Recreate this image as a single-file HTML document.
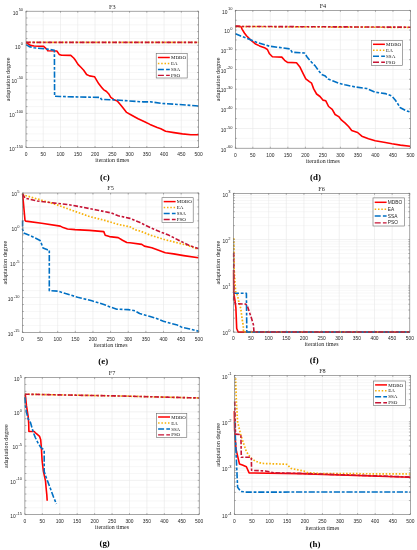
<!DOCTYPE html>
<html><head><meta charset="utf-8"><style>
html,body{margin:0;padding:0;background:#fff;}
body{width:417px;height:550px;overflow:hidden;}
svg{display:block;filter:blur(0.3px);}
.tk{font-family:"Liberation Sans",sans-serif;font-size:4.9px;fill:#262626;}
.sup{font-size:4.0px;}
.ti{font-family:"Liberation Serif",serif;font-size:6.2px;fill:#222;}
.xl{font-family:"Liberation Serif",serif;font-size:5.9px;fill:#222;}
.yl{font-family:"Liberation Serif",serif;font-size:6.2px;fill:#222;}
.cap{font-family:"Liberation Serif",serif;font-size:8.9px;font-weight:bold;fill:#000;}
.lg{font-family:"Liberation Serif",serif;font-size:5.0px;fill:#111;}
.lg7{font-family:"Liberation Serif",serif;font-size:4.85px;fill:#111;}
.lgs{font-family:"Liberation Sans",sans-serif;font-size:4.8px;fill:#222;}
</style></head><body>
<svg width="417" height="550" viewBox="0 0 417 550">
<rect width="417" height="550" fill="#fff"/>
<line x1="26" y1="140.69" x2="198.6" y2="140.69" stroke="#efefef" stroke-width="0.5"/>
<line x1="26" y1="133.87" x2="198.6" y2="133.87" stroke="#efefef" stroke-width="0.5"/>
<line x1="26" y1="127.06" x2="198.6" y2="127.06" stroke="#efefef" stroke-width="0.5"/>
<line x1="26" y1="120.24" x2="198.6" y2="120.24" stroke="#efefef" stroke-width="0.5"/>
<line x1="26" y1="106.61" x2="198.6" y2="106.61" stroke="#efefef" stroke-width="0.5"/>
<line x1="26" y1="99.8" x2="198.6" y2="99.8" stroke="#efefef" stroke-width="0.5"/>
<line x1="26" y1="92.98" x2="198.6" y2="92.98" stroke="#efefef" stroke-width="0.5"/>
<line x1="26" y1="86.16" x2="198.6" y2="86.16" stroke="#efefef" stroke-width="0.5"/>
<line x1="26" y1="72.53" x2="198.6" y2="72.53" stroke="#efefef" stroke-width="0.5"/>
<line x1="26" y1="65.72" x2="198.6" y2="65.72" stroke="#efefef" stroke-width="0.5"/>
<line x1="26" y1="58.9" x2="198.6" y2="58.9" stroke="#efefef" stroke-width="0.5"/>
<line x1="26" y1="52.09" x2="198.6" y2="52.09" stroke="#efefef" stroke-width="0.5"/>
<line x1="26" y1="38.46" x2="198.6" y2="38.46" stroke="#efefef" stroke-width="0.5"/>
<line x1="26" y1="31.64" x2="198.6" y2="31.64" stroke="#efefef" stroke-width="0.5"/>
<line x1="26" y1="24.83" x2="198.6" y2="24.83" stroke="#efefef" stroke-width="0.5"/>
<line x1="26" y1="18.01" x2="198.6" y2="18.01" stroke="#efefef" stroke-width="0.5"/>
<line x1="43.26" y1="11.2" x2="43.26" y2="147.5" stroke="#e8e8e8" stroke-width="0.6"/>
<line x1="60.52" y1="11.2" x2="60.52" y2="147.5" stroke="#e8e8e8" stroke-width="0.6"/>
<line x1="77.78" y1="11.2" x2="77.78" y2="147.5" stroke="#e8e8e8" stroke-width="0.6"/>
<line x1="95.04" y1="11.2" x2="95.04" y2="147.5" stroke="#e8e8e8" stroke-width="0.6"/>
<line x1="112.3" y1="11.2" x2="112.3" y2="147.5" stroke="#e8e8e8" stroke-width="0.6"/>
<line x1="129.56" y1="11.2" x2="129.56" y2="147.5" stroke="#e8e8e8" stroke-width="0.6"/>
<line x1="146.82" y1="11.2" x2="146.82" y2="147.5" stroke="#e8e8e8" stroke-width="0.6"/>
<line x1="164.08" y1="11.2" x2="164.08" y2="147.5" stroke="#e8e8e8" stroke-width="0.6"/>
<line x1="181.34" y1="11.2" x2="181.34" y2="147.5" stroke="#e8e8e8" stroke-width="0.6"/>
<line x1="26" y1="45.27" x2="198.6" y2="45.27" stroke="#e8e8e8" stroke-width="0.6"/>
<line x1="26" y1="79.35" x2="198.6" y2="79.35" stroke="#e8e8e8" stroke-width="0.6"/>
<line x1="26" y1="113.42" x2="198.6" y2="113.42" stroke="#e8e8e8" stroke-width="0.6"/>
<polyline fill="none" stroke="#ff0000" stroke-width="1.6" stroke-linejoin="round" points="26.2,42.6 30.4,45.4 34,46 43.6,46.4 47.2,49.6 47.8,50.8 56.8,51 59.2,54.4 61.6,55.3 70.8,55.4 73.7,58 75.8,60.8 78,64.4 80.9,67.3 83.7,70.2 86.6,74.5 89.5,75.9 94.5,76.7 96.7,80.3 98.8,83.8 101.7,87.4 103.5,89.6 106.5,91.5 108.6,93.7 110.8,97.3 113.7,99.4 117.3,100.9 120.9,105.2 123.7,108.8 126.6,112.4 131.7,115.3 138.1,118.8 144.6,121.7 150,124.4 157.2,127.6 160.8,128.8 165.6,131.2 174,132.6 182.4,133.9 190.8,134.8 198.6,134.8"/>
<polyline fill="none" stroke="#f7b10a" stroke-width="1.7" stroke-dasharray="1.6 1.7" stroke-linejoin="round" points="26,42.4 198.6,42.4"/>
<polyline fill="none" stroke="#0070c4" stroke-width="1.6" stroke-dasharray="6.2 1.8 2.8 1.8" stroke-linejoin="round" points="26.2,44.6 29.2,46.6 34,47.8 46,49 54.4,50.2 54.6,96.3 60,96.5 80,97 100.3,97.4 101.4,99.4 114.4,99.9 128.8,100.9 143.2,101.9 150,101.8 162,103.4 174,104.2 186,105 198.6,106"/>
<polyline fill="none" stroke="#c61334" stroke-width="1.6" stroke-dasharray="4.6 1.8 2.6 1.8" stroke-linejoin="round" points="26,42.4 198.6,42.4"/>
<rect x="26" y="11.2" width="172.6" height="136.3" fill="none" stroke="#6a6a6a" stroke-width="0.6"/>
<line x1="26" y1="147.5" x2="26" y2="146" stroke="#6a6a6a" stroke-width="0.5"/>
<line x1="26" y1="11.2" x2="26" y2="12.7" stroke="#6a6a6a" stroke-width="0.5"/>
<text x="26" y="155.8" class="tk" text-anchor="middle">0</text>
<line x1="43.26" y1="147.5" x2="43.26" y2="146" stroke="#6a6a6a" stroke-width="0.5"/>
<line x1="43.26" y1="11.2" x2="43.26" y2="12.7" stroke="#6a6a6a" stroke-width="0.5"/>
<text x="43.26" y="155.8" class="tk" text-anchor="middle">50</text>
<line x1="60.52" y1="147.5" x2="60.52" y2="146" stroke="#6a6a6a" stroke-width="0.5"/>
<line x1="60.52" y1="11.2" x2="60.52" y2="12.7" stroke="#6a6a6a" stroke-width="0.5"/>
<text x="60.52" y="155.8" class="tk" text-anchor="middle">100</text>
<line x1="77.78" y1="147.5" x2="77.78" y2="146" stroke="#6a6a6a" stroke-width="0.5"/>
<line x1="77.78" y1="11.2" x2="77.78" y2="12.7" stroke="#6a6a6a" stroke-width="0.5"/>
<text x="77.78" y="155.8" class="tk" text-anchor="middle">150</text>
<line x1="95.04" y1="147.5" x2="95.04" y2="146" stroke="#6a6a6a" stroke-width="0.5"/>
<line x1="95.04" y1="11.2" x2="95.04" y2="12.7" stroke="#6a6a6a" stroke-width="0.5"/>
<text x="95.04" y="155.8" class="tk" text-anchor="middle">200</text>
<line x1="112.3" y1="147.5" x2="112.3" y2="146" stroke="#6a6a6a" stroke-width="0.5"/>
<line x1="112.3" y1="11.2" x2="112.3" y2="12.7" stroke="#6a6a6a" stroke-width="0.5"/>
<text x="112.3" y="155.8" class="tk" text-anchor="middle">250</text>
<line x1="129.56" y1="147.5" x2="129.56" y2="146" stroke="#6a6a6a" stroke-width="0.5"/>
<line x1="129.56" y1="11.2" x2="129.56" y2="12.7" stroke="#6a6a6a" stroke-width="0.5"/>
<text x="129.56" y="155.8" class="tk" text-anchor="middle">300</text>
<line x1="146.82" y1="147.5" x2="146.82" y2="146" stroke="#6a6a6a" stroke-width="0.5"/>
<line x1="146.82" y1="11.2" x2="146.82" y2="12.7" stroke="#6a6a6a" stroke-width="0.5"/>
<text x="146.82" y="155.8" class="tk" text-anchor="middle">350</text>
<line x1="164.08" y1="147.5" x2="164.08" y2="146" stroke="#6a6a6a" stroke-width="0.5"/>
<line x1="164.08" y1="11.2" x2="164.08" y2="12.7" stroke="#6a6a6a" stroke-width="0.5"/>
<text x="164.08" y="155.8" class="tk" text-anchor="middle">400</text>
<line x1="181.34" y1="147.5" x2="181.34" y2="146" stroke="#6a6a6a" stroke-width="0.5"/>
<line x1="181.34" y1="11.2" x2="181.34" y2="12.7" stroke="#6a6a6a" stroke-width="0.5"/>
<text x="181.34" y="155.8" class="tk" text-anchor="middle">450</text>
<line x1="198.6" y1="147.5" x2="198.6" y2="146" stroke="#6a6a6a" stroke-width="0.5"/>
<line x1="198.6" y1="11.2" x2="198.6" y2="12.7" stroke="#6a6a6a" stroke-width="0.5"/>
<text x="198.6" y="155.8" class="tk" text-anchor="middle">500</text>
<line x1="26" y1="11.2" x2="27.5" y2="11.2" stroke="#6a6a6a" stroke-width="0.5"/>
<line x1="198.6" y1="11.2" x2="197.1" y2="11.2" stroke="#6a6a6a" stroke-width="0.5"/>
<line x1="26" y1="45.27" x2="27.5" y2="45.27" stroke="#6a6a6a" stroke-width="0.5"/>
<line x1="198.6" y1="45.27" x2="197.1" y2="45.27" stroke="#6a6a6a" stroke-width="0.5"/>
<line x1="26" y1="79.35" x2="27.5" y2="79.35" stroke="#6a6a6a" stroke-width="0.5"/>
<line x1="198.6" y1="79.35" x2="197.1" y2="79.35" stroke="#6a6a6a" stroke-width="0.5"/>
<line x1="26" y1="113.42" x2="27.5" y2="113.42" stroke="#6a6a6a" stroke-width="0.5"/>
<line x1="198.6" y1="113.42" x2="197.1" y2="113.42" stroke="#6a6a6a" stroke-width="0.5"/>
<line x1="26" y1="147.5" x2="27.5" y2="147.5" stroke="#6a6a6a" stroke-width="0.5"/>
<line x1="198.6" y1="147.5" x2="197.1" y2="147.5" stroke="#6a6a6a" stroke-width="0.5"/>
<line x1="26" y1="140.69" x2="27.5" y2="140.69" stroke="#6a6a6a" stroke-width="0.5"/>
<line x1="198.6" y1="140.69" x2="197.1" y2="140.69" stroke="#6a6a6a" stroke-width="0.5"/>
<line x1="26" y1="133.87" x2="27.5" y2="133.87" stroke="#6a6a6a" stroke-width="0.5"/>
<line x1="198.6" y1="133.87" x2="197.1" y2="133.87" stroke="#6a6a6a" stroke-width="0.5"/>
<line x1="26" y1="127.06" x2="27.5" y2="127.06" stroke="#6a6a6a" stroke-width="0.5"/>
<line x1="198.6" y1="127.06" x2="197.1" y2="127.06" stroke="#6a6a6a" stroke-width="0.5"/>
<line x1="26" y1="120.24" x2="27.5" y2="120.24" stroke="#6a6a6a" stroke-width="0.5"/>
<line x1="198.6" y1="120.24" x2="197.1" y2="120.24" stroke="#6a6a6a" stroke-width="0.5"/>
<line x1="26" y1="106.61" x2="27.5" y2="106.61" stroke="#6a6a6a" stroke-width="0.5"/>
<line x1="198.6" y1="106.61" x2="197.1" y2="106.61" stroke="#6a6a6a" stroke-width="0.5"/>
<line x1="26" y1="99.8" x2="27.5" y2="99.8" stroke="#6a6a6a" stroke-width="0.5"/>
<line x1="198.6" y1="99.8" x2="197.1" y2="99.8" stroke="#6a6a6a" stroke-width="0.5"/>
<line x1="26" y1="92.98" x2="27.5" y2="92.98" stroke="#6a6a6a" stroke-width="0.5"/>
<line x1="198.6" y1="92.98" x2="197.1" y2="92.98" stroke="#6a6a6a" stroke-width="0.5"/>
<line x1="26" y1="86.16" x2="27.5" y2="86.16" stroke="#6a6a6a" stroke-width="0.5"/>
<line x1="198.6" y1="86.16" x2="197.1" y2="86.16" stroke="#6a6a6a" stroke-width="0.5"/>
<line x1="26" y1="72.53" x2="27.5" y2="72.53" stroke="#6a6a6a" stroke-width="0.5"/>
<line x1="198.6" y1="72.53" x2="197.1" y2="72.53" stroke="#6a6a6a" stroke-width="0.5"/>
<line x1="26" y1="65.72" x2="27.5" y2="65.72" stroke="#6a6a6a" stroke-width="0.5"/>
<line x1="198.6" y1="65.72" x2="197.1" y2="65.72" stroke="#6a6a6a" stroke-width="0.5"/>
<line x1="26" y1="58.9" x2="27.5" y2="58.9" stroke="#6a6a6a" stroke-width="0.5"/>
<line x1="198.6" y1="58.9" x2="197.1" y2="58.9" stroke="#6a6a6a" stroke-width="0.5"/>
<line x1="26" y1="52.09" x2="27.5" y2="52.09" stroke="#6a6a6a" stroke-width="0.5"/>
<line x1="198.6" y1="52.09" x2="197.1" y2="52.09" stroke="#6a6a6a" stroke-width="0.5"/>
<line x1="26" y1="38.46" x2="27.5" y2="38.46" stroke="#6a6a6a" stroke-width="0.5"/>
<line x1="198.6" y1="38.46" x2="197.1" y2="38.46" stroke="#6a6a6a" stroke-width="0.5"/>
<line x1="26" y1="31.64" x2="27.5" y2="31.64" stroke="#6a6a6a" stroke-width="0.5"/>
<line x1="198.6" y1="31.64" x2="197.1" y2="31.64" stroke="#6a6a6a" stroke-width="0.5"/>
<line x1="26" y1="24.83" x2="27.5" y2="24.83" stroke="#6a6a6a" stroke-width="0.5"/>
<line x1="198.6" y1="24.83" x2="197.1" y2="24.83" stroke="#6a6a6a" stroke-width="0.5"/>
<line x1="26" y1="18.01" x2="27.5" y2="18.01" stroke="#6a6a6a" stroke-width="0.5"/>
<line x1="198.6" y1="18.01" x2="197.1" y2="18.01" stroke="#6a6a6a" stroke-width="0.5"/>
<text x="23.1" y="14.5" class="tk" text-anchor="end">10<tspan class="sup" dx="0.4" dy="-3.3">50</tspan></text>
<text x="23.1" y="48.57" class="tk" text-anchor="end">10<tspan class="sup" dx="0.4" dy="-3.3">0</tspan></text>
<text x="23.1" y="82.65" class="tk" text-anchor="end">10<tspan class="sup" dx="0.4" dy="-3.3">-50</tspan></text>
<text x="23.1" y="116.72" class="tk" text-anchor="end">10<tspan class="sup" dx="0.4" dy="-3.3">-100</tspan></text>
<text x="23.1" y="150.8" class="tk" text-anchor="end">10<tspan class="sup" dx="0.4" dy="-3.3">-150</tspan></text>
<text x="112.3" y="8.6" class="ti" text-anchor="middle">F3</text>
<text x="112.3" y="161.9" class="xl" text-anchor="middle">iteration times</text>
<text transform="translate(9.6,79.35) rotate(-90)" class="yl" text-anchor="middle">adaptation degree</text>
<text x="104.9" y="180.2" class="cap" text-anchor="middle">(c)</text>
<rect x="156.2" y="53.6" width="31" height="24.4" fill="#fff" stroke="#6a6a6a" stroke-width="0.6"/>
<line x1="157.9" y1="57.5" x2="169.8" y2="57.5" stroke="#ff0000" stroke-width="1.5"/>
<text x="171" y="59.1" class="lg">MDBO</text>
<line x1="157.9" y1="63.45" x2="169.8" y2="63.45" stroke="#f7b10a" stroke-width="1.5" stroke-dasharray="1.5 1.8"/>
<text x="171" y="65.05" class="lg">EA</text>
<line x1="157.9" y1="69.4" x2="169.8" y2="69.4" stroke="#0070c4" stroke-width="1.45" stroke-dasharray="6 2.2 3.7"/>
<text x="171" y="71" class="lg">SSA</text>
<line x1="157.9" y1="75.35" x2="169.8" y2="75.35" stroke="#c61334" stroke-width="1.45" stroke-dasharray="6 2.2 3.7"/>
<text x="171" y="76.95" class="lg">PSO</text>
<line x1="235.3" y1="138.36" x2="410.5" y2="138.36" stroke="#efefef" stroke-width="0.5"/>
<line x1="235.3" y1="118.67" x2="410.5" y2="118.67" stroke="#efefef" stroke-width="0.5"/>
<line x1="235.3" y1="98.99" x2="410.5" y2="98.99" stroke="#efefef" stroke-width="0.5"/>
<line x1="235.3" y1="79.3" x2="410.5" y2="79.3" stroke="#efefef" stroke-width="0.5"/>
<line x1="235.3" y1="59.61" x2="410.5" y2="59.61" stroke="#efefef" stroke-width="0.5"/>
<line x1="235.3" y1="39.93" x2="410.5" y2="39.93" stroke="#efefef" stroke-width="0.5"/>
<line x1="235.3" y1="20.24" x2="410.5" y2="20.24" stroke="#efefef" stroke-width="0.5"/>
<line x1="252.82" y1="10.4" x2="252.82" y2="148.2" stroke="#e8e8e8" stroke-width="0.6"/>
<line x1="270.34" y1="10.4" x2="270.34" y2="148.2" stroke="#e8e8e8" stroke-width="0.6"/>
<line x1="287.86" y1="10.4" x2="287.86" y2="148.2" stroke="#e8e8e8" stroke-width="0.6"/>
<line x1="305.38" y1="10.4" x2="305.38" y2="148.2" stroke="#e8e8e8" stroke-width="0.6"/>
<line x1="322.9" y1="10.4" x2="322.9" y2="148.2" stroke="#e8e8e8" stroke-width="0.6"/>
<line x1="340.42" y1="10.4" x2="340.42" y2="148.2" stroke="#e8e8e8" stroke-width="0.6"/>
<line x1="357.94" y1="10.4" x2="357.94" y2="148.2" stroke="#e8e8e8" stroke-width="0.6"/>
<line x1="375.46" y1="10.4" x2="375.46" y2="148.2" stroke="#e8e8e8" stroke-width="0.6"/>
<line x1="392.98" y1="10.4" x2="392.98" y2="148.2" stroke="#e8e8e8" stroke-width="0.6"/>
<line x1="235.3" y1="30.09" x2="410.5" y2="30.09" stroke="#e8e8e8" stroke-width="0.6"/>
<line x1="235.3" y1="49.77" x2="410.5" y2="49.77" stroke="#e8e8e8" stroke-width="0.6"/>
<line x1="235.3" y1="69.46" x2="410.5" y2="69.46" stroke="#e8e8e8" stroke-width="0.6"/>
<line x1="235.3" y1="89.14" x2="410.5" y2="89.14" stroke="#e8e8e8" stroke-width="0.6"/>
<line x1="235.3" y1="108.83" x2="410.5" y2="108.83" stroke="#e8e8e8" stroke-width="0.6"/>
<line x1="235.3" y1="128.51" x2="410.5" y2="128.51" stroke="#e8e8e8" stroke-width="0.6"/>
<polyline fill="none" stroke="#ff0000" stroke-width="1.6" stroke-linejoin="round" points="235.5,26 240.8,26.5 242.2,29.4 244.4,33 246.5,35.8 250.8,40.1 255.1,43.7 259.5,45.9 265.2,48.1 267.4,49.5 269.5,53.8 272.4,56.7 281.8,57.1 284.6,60.3 287.5,62.4 296.5,62.7 300.1,67.3 302.9,73.1 305.8,78.8 309.4,81.7 311.6,83.2 313.7,88.9 316.6,94 320,96.5 322.9,100.1 325.8,100.8 328.6,106.5 332.2,109.4 335.1,114.5 338.7,116.6 341.6,120.2 345.2,123.1 348.8,126.7 351.7,130.5 357.6,132.5 361.8,136.2 368.5,138.7 375.2,140.7 385.3,142.5 392,143.8 400.4,145.1 410,146.3"/>
<polyline fill="none" stroke="#f7b10a" stroke-width="1.7" stroke-dasharray="1.6 1.7" stroke-linejoin="round" points="235.3,26.6 410.5,27.4"/>
<polyline fill="none" stroke="#0070c4" stroke-width="1.6" stroke-dasharray="6.2 1.8 2.8 1.8" stroke-linejoin="round" points="235.5,33.7 240.8,36.1 248,38.7 256.6,42.3 263.8,44.5 269.5,46.2 278.2,47.3 290,48.9 292.2,52.2 304.4,53 307.3,57.3 311.6,62.3 315.2,65.9 318.8,70.9 321.7,74.5 325.3,76 328.1,79.1 333.2,81 338.9,83.2 345,84.8 355.1,86.9 366.8,88.5 375.2,92.2 385.3,93.6 392,96.1 395.4,100.3 400.4,107.8 405.4,110.4 410,112"/>
<polyline fill="none" stroke="#c61334" stroke-width="1.6" stroke-dasharray="4.6 1.8 2.6 1.8" stroke-linejoin="round" points="235.3,26.4 410.5,27.2"/>
<rect x="235.3" y="10.4" width="175.2" height="137.8" fill="none" stroke="#6a6a6a" stroke-width="0.6"/>
<line x1="235.3" y1="148.2" x2="235.3" y2="146.7" stroke="#6a6a6a" stroke-width="0.5"/>
<line x1="235.3" y1="10.4" x2="235.3" y2="11.9" stroke="#6a6a6a" stroke-width="0.5"/>
<text x="235.3" y="156.5" class="tk" text-anchor="middle">0</text>
<line x1="252.82" y1="148.2" x2="252.82" y2="146.7" stroke="#6a6a6a" stroke-width="0.5"/>
<line x1="252.82" y1="10.4" x2="252.82" y2="11.9" stroke="#6a6a6a" stroke-width="0.5"/>
<text x="252.82" y="156.5" class="tk" text-anchor="middle">50</text>
<line x1="270.34" y1="148.2" x2="270.34" y2="146.7" stroke="#6a6a6a" stroke-width="0.5"/>
<line x1="270.34" y1="10.4" x2="270.34" y2="11.9" stroke="#6a6a6a" stroke-width="0.5"/>
<text x="270.34" y="156.5" class="tk" text-anchor="middle">100</text>
<line x1="287.86" y1="148.2" x2="287.86" y2="146.7" stroke="#6a6a6a" stroke-width="0.5"/>
<line x1="287.86" y1="10.4" x2="287.86" y2="11.9" stroke="#6a6a6a" stroke-width="0.5"/>
<text x="287.86" y="156.5" class="tk" text-anchor="middle">150</text>
<line x1="305.38" y1="148.2" x2="305.38" y2="146.7" stroke="#6a6a6a" stroke-width="0.5"/>
<line x1="305.38" y1="10.4" x2="305.38" y2="11.9" stroke="#6a6a6a" stroke-width="0.5"/>
<text x="305.38" y="156.5" class="tk" text-anchor="middle">200</text>
<line x1="322.9" y1="148.2" x2="322.9" y2="146.7" stroke="#6a6a6a" stroke-width="0.5"/>
<line x1="322.9" y1="10.4" x2="322.9" y2="11.9" stroke="#6a6a6a" stroke-width="0.5"/>
<text x="322.9" y="156.5" class="tk" text-anchor="middle">250</text>
<line x1="340.42" y1="148.2" x2="340.42" y2="146.7" stroke="#6a6a6a" stroke-width="0.5"/>
<line x1="340.42" y1="10.4" x2="340.42" y2="11.9" stroke="#6a6a6a" stroke-width="0.5"/>
<text x="340.42" y="156.5" class="tk" text-anchor="middle">300</text>
<line x1="357.94" y1="148.2" x2="357.94" y2="146.7" stroke="#6a6a6a" stroke-width="0.5"/>
<line x1="357.94" y1="10.4" x2="357.94" y2="11.9" stroke="#6a6a6a" stroke-width="0.5"/>
<text x="357.94" y="156.5" class="tk" text-anchor="middle">350</text>
<line x1="375.46" y1="148.2" x2="375.46" y2="146.7" stroke="#6a6a6a" stroke-width="0.5"/>
<line x1="375.46" y1="10.4" x2="375.46" y2="11.9" stroke="#6a6a6a" stroke-width="0.5"/>
<text x="375.46" y="156.5" class="tk" text-anchor="middle">400</text>
<line x1="392.98" y1="148.2" x2="392.98" y2="146.7" stroke="#6a6a6a" stroke-width="0.5"/>
<line x1="392.98" y1="10.4" x2="392.98" y2="11.9" stroke="#6a6a6a" stroke-width="0.5"/>
<text x="392.98" y="156.5" class="tk" text-anchor="middle">450</text>
<line x1="410.5" y1="148.2" x2="410.5" y2="146.7" stroke="#6a6a6a" stroke-width="0.5"/>
<line x1="410.5" y1="10.4" x2="410.5" y2="11.9" stroke="#6a6a6a" stroke-width="0.5"/>
<text x="410.5" y="156.5" class="tk" text-anchor="middle">500</text>
<line x1="235.3" y1="10.4" x2="236.8" y2="10.4" stroke="#6a6a6a" stroke-width="0.5"/>
<line x1="410.5" y1="10.4" x2="409" y2="10.4" stroke="#6a6a6a" stroke-width="0.5"/>
<line x1="235.3" y1="30.09" x2="236.8" y2="30.09" stroke="#6a6a6a" stroke-width="0.5"/>
<line x1="410.5" y1="30.09" x2="409" y2="30.09" stroke="#6a6a6a" stroke-width="0.5"/>
<line x1="235.3" y1="49.77" x2="236.8" y2="49.77" stroke="#6a6a6a" stroke-width="0.5"/>
<line x1="410.5" y1="49.77" x2="409" y2="49.77" stroke="#6a6a6a" stroke-width="0.5"/>
<line x1="235.3" y1="69.46" x2="236.8" y2="69.46" stroke="#6a6a6a" stroke-width="0.5"/>
<line x1="410.5" y1="69.46" x2="409" y2="69.46" stroke="#6a6a6a" stroke-width="0.5"/>
<line x1="235.3" y1="89.14" x2="236.8" y2="89.14" stroke="#6a6a6a" stroke-width="0.5"/>
<line x1="410.5" y1="89.14" x2="409" y2="89.14" stroke="#6a6a6a" stroke-width="0.5"/>
<line x1="235.3" y1="108.83" x2="236.8" y2="108.83" stroke="#6a6a6a" stroke-width="0.5"/>
<line x1="410.5" y1="108.83" x2="409" y2="108.83" stroke="#6a6a6a" stroke-width="0.5"/>
<line x1="235.3" y1="128.51" x2="236.8" y2="128.51" stroke="#6a6a6a" stroke-width="0.5"/>
<line x1="410.5" y1="128.51" x2="409" y2="128.51" stroke="#6a6a6a" stroke-width="0.5"/>
<line x1="235.3" y1="148.2" x2="236.8" y2="148.2" stroke="#6a6a6a" stroke-width="0.5"/>
<line x1="410.5" y1="148.2" x2="409" y2="148.2" stroke="#6a6a6a" stroke-width="0.5"/>
<line x1="235.3" y1="138.36" x2="236.8" y2="138.36" stroke="#6a6a6a" stroke-width="0.5"/>
<line x1="410.5" y1="138.36" x2="409" y2="138.36" stroke="#6a6a6a" stroke-width="0.5"/>
<line x1="235.3" y1="118.67" x2="236.8" y2="118.67" stroke="#6a6a6a" stroke-width="0.5"/>
<line x1="410.5" y1="118.67" x2="409" y2="118.67" stroke="#6a6a6a" stroke-width="0.5"/>
<line x1="235.3" y1="98.99" x2="236.8" y2="98.99" stroke="#6a6a6a" stroke-width="0.5"/>
<line x1="410.5" y1="98.99" x2="409" y2="98.99" stroke="#6a6a6a" stroke-width="0.5"/>
<line x1="235.3" y1="79.3" x2="236.8" y2="79.3" stroke="#6a6a6a" stroke-width="0.5"/>
<line x1="410.5" y1="79.3" x2="409" y2="79.3" stroke="#6a6a6a" stroke-width="0.5"/>
<line x1="235.3" y1="59.61" x2="236.8" y2="59.61" stroke="#6a6a6a" stroke-width="0.5"/>
<line x1="410.5" y1="59.61" x2="409" y2="59.61" stroke="#6a6a6a" stroke-width="0.5"/>
<line x1="235.3" y1="39.93" x2="236.8" y2="39.93" stroke="#6a6a6a" stroke-width="0.5"/>
<line x1="410.5" y1="39.93" x2="409" y2="39.93" stroke="#6a6a6a" stroke-width="0.5"/>
<line x1="235.3" y1="20.24" x2="236.8" y2="20.24" stroke="#6a6a6a" stroke-width="0.5"/>
<line x1="410.5" y1="20.24" x2="409" y2="20.24" stroke="#6a6a6a" stroke-width="0.5"/>
<text x="232.4" y="13.7" class="tk" text-anchor="end">10<tspan class="sup" dx="0.4" dy="-3.3">10</tspan></text>
<text x="232.4" y="33.39" class="tk" text-anchor="end">10<tspan class="sup" dx="0.4" dy="-3.3">0</tspan></text>
<text x="232.4" y="53.07" class="tk" text-anchor="end">10<tspan class="sup" dx="0.4" dy="-3.3">-10</tspan></text>
<text x="232.4" y="72.76" class="tk" text-anchor="end">10<tspan class="sup" dx="0.4" dy="-3.3">-20</tspan></text>
<text x="232.4" y="92.44" class="tk" text-anchor="end">10<tspan class="sup" dx="0.4" dy="-3.3">-30</tspan></text>
<text x="232.4" y="112.13" class="tk" text-anchor="end">10<tspan class="sup" dx="0.4" dy="-3.3">-40</tspan></text>
<text x="232.4" y="131.81" class="tk" text-anchor="end">10<tspan class="sup" dx="0.4" dy="-3.3">-50</tspan></text>
<text x="232.4" y="151.5" class="tk" text-anchor="end">10<tspan class="sup" dx="0.4" dy="-3.3">-60</tspan></text>
<text x="322.9" y="7.8" class="ti" text-anchor="middle">F4</text>
<text x="322.9" y="162.6" class="xl" text-anchor="middle">iteration times</text>
<text transform="translate(220.4,79.3) rotate(-90)" class="yl" text-anchor="middle">adaptation degree</text>
<text x="315.5" y="180.3" class="cap" text-anchor="middle">(d)</text>
<rect x="371.3" y="40.4" width="31.2" height="24.9" fill="#fff" stroke="#6a6a6a" stroke-width="0.6"/>
<line x1="373" y1="44.3" x2="384.9" y2="44.3" stroke="#ff0000" stroke-width="1.5"/>
<text x="386.1" y="45.9" class="lg">MDBO</text>
<line x1="373" y1="50.25" x2="384.9" y2="50.25" stroke="#f7b10a" stroke-width="1.5" stroke-dasharray="1.5 1.8"/>
<text x="386.1" y="51.85" class="lg">EA</text>
<line x1="373" y1="56.2" x2="384.9" y2="56.2" stroke="#0070c4" stroke-width="1.45" stroke-dasharray="6 2.2 3.7"/>
<text x="386.1" y="57.8" class="lg">SSA</text>
<line x1="373" y1="62.15" x2="384.9" y2="62.15" stroke="#c61334" stroke-width="1.45" stroke-dasharray="6 2.2 3.7"/>
<text x="386.1" y="63.75" class="lg">PSO</text>
<line x1="22.4" y1="325.43" x2="198.8" y2="325.43" stroke="#efefef" stroke-width="0.5"/>
<line x1="22.4" y1="318.46" x2="198.8" y2="318.46" stroke="#efefef" stroke-width="0.5"/>
<line x1="22.4" y1="311.49" x2="198.8" y2="311.49" stroke="#efefef" stroke-width="0.5"/>
<line x1="22.4" y1="304.52" x2="198.8" y2="304.52" stroke="#efefef" stroke-width="0.5"/>
<line x1="22.4" y1="290.58" x2="198.8" y2="290.58" stroke="#efefef" stroke-width="0.5"/>
<line x1="22.4" y1="283.61" x2="198.8" y2="283.61" stroke="#efefef" stroke-width="0.5"/>
<line x1="22.4" y1="276.64" x2="198.8" y2="276.64" stroke="#efefef" stroke-width="0.5"/>
<line x1="22.4" y1="269.67" x2="198.8" y2="269.67" stroke="#efefef" stroke-width="0.5"/>
<line x1="22.4" y1="255.73" x2="198.8" y2="255.73" stroke="#efefef" stroke-width="0.5"/>
<line x1="22.4" y1="248.76" x2="198.8" y2="248.76" stroke="#efefef" stroke-width="0.5"/>
<line x1="22.4" y1="241.79" x2="198.8" y2="241.79" stroke="#efefef" stroke-width="0.5"/>
<line x1="22.4" y1="234.82" x2="198.8" y2="234.82" stroke="#efefef" stroke-width="0.5"/>
<line x1="22.4" y1="220.88" x2="198.8" y2="220.88" stroke="#efefef" stroke-width="0.5"/>
<line x1="22.4" y1="213.91" x2="198.8" y2="213.91" stroke="#efefef" stroke-width="0.5"/>
<line x1="22.4" y1="206.94" x2="198.8" y2="206.94" stroke="#efefef" stroke-width="0.5"/>
<line x1="22.4" y1="199.97" x2="198.8" y2="199.97" stroke="#efefef" stroke-width="0.5"/>
<line x1="40.04" y1="193" x2="40.04" y2="332.4" stroke="#e8e8e8" stroke-width="0.6"/>
<line x1="57.68" y1="193" x2="57.68" y2="332.4" stroke="#e8e8e8" stroke-width="0.6"/>
<line x1="75.32" y1="193" x2="75.32" y2="332.4" stroke="#e8e8e8" stroke-width="0.6"/>
<line x1="92.96" y1="193" x2="92.96" y2="332.4" stroke="#e8e8e8" stroke-width="0.6"/>
<line x1="110.6" y1="193" x2="110.6" y2="332.4" stroke="#e8e8e8" stroke-width="0.6"/>
<line x1="128.24" y1="193" x2="128.24" y2="332.4" stroke="#e8e8e8" stroke-width="0.6"/>
<line x1="145.88" y1="193" x2="145.88" y2="332.4" stroke="#e8e8e8" stroke-width="0.6"/>
<line x1="163.52" y1="193" x2="163.52" y2="332.4" stroke="#e8e8e8" stroke-width="0.6"/>
<line x1="181.16" y1="193" x2="181.16" y2="332.4" stroke="#e8e8e8" stroke-width="0.6"/>
<line x1="22.4" y1="227.85" x2="198.8" y2="227.85" stroke="#e8e8e8" stroke-width="0.6"/>
<line x1="22.4" y1="262.7" x2="198.8" y2="262.7" stroke="#e8e8e8" stroke-width="0.6"/>
<line x1="22.4" y1="297.55" x2="198.8" y2="297.55" stroke="#e8e8e8" stroke-width="0.6"/>
<polyline fill="none" stroke="#ff0000" stroke-width="1.6" stroke-linejoin="round" points="22.6,193.8 25,220.4 25.8,221.1 41.6,223.3 60.3,226.1 63.2,227.6 67.5,229 75,229.6 89.4,230.4 103.8,231.6 105.2,235.2 109.5,236.6 118.2,237.6 122.5,240.2 126.8,242.5 130,242.7 141.8,244.4 144.3,246.1 151.8,247.7 165.3,252.8 173.6,253.9 183.7,255.6 198.3,257.8"/>
<polyline fill="none" stroke="#f7b10a" stroke-width="1.7" stroke-dasharray="1.6 1.7" stroke-linejoin="round" points="22.6,193.8 24.3,195.2 41.6,200.2 56,204.5 75,211.4 89.4,216.5 103.8,220.1 118.2,224.4 130,226.8 135,229.8 140.1,231 150.1,235.1 163.6,239.3 177,242.7 187.1,245.2 198.3,249.4"/>
<polyline fill="none" stroke="#0070c4" stroke-width="1.6" stroke-dasharray="6.2 1.8 2.8 1.8" stroke-linejoin="round" points="22.6,220.4 22.6,229.7 24.3,233.3 31.5,236.2 40.1,240.5 41.6,244.1 43,248 47.5,249.8 49.3,250 49.3,290.7 58.4,291.2 65.6,293.6 77.6,297.2 91.9,300.8 103.9,304.4 110,306.9 116.8,309.2 128.2,309.6 135,310.8 139.6,313.5 150.1,316.5 155.6,318.1 163.4,321.2 171.2,323.5 177.4,325.1 182.1,327.4 189.9,329 198.6,331.2"/>
<polyline fill="none" stroke="#c61334" stroke-width="1.6" stroke-dasharray="4.6 1.8 2.6 1.8" stroke-linejoin="round" points="22.6,193.8 25,198.1 37.3,201 54.5,203.1 67.5,204.5 80,206.7 96.6,210 111,212.9 118.2,215.8 130,218.4 140.1,222.6 150.1,227.6 160.2,231.8 168.6,235.1 178.7,240.2 188.8,245.2 198.3,248.6"/>
<rect x="22.4" y="193" width="176.4" height="139.4" fill="none" stroke="#6a6a6a" stroke-width="0.6"/>
<line x1="22.4" y1="332.4" x2="22.4" y2="330.9" stroke="#6a6a6a" stroke-width="0.5"/>
<line x1="22.4" y1="193" x2="22.4" y2="194.5" stroke="#6a6a6a" stroke-width="0.5"/>
<text x="22.4" y="340.7" class="tk" text-anchor="middle">0</text>
<line x1="40.04" y1="332.4" x2="40.04" y2="330.9" stroke="#6a6a6a" stroke-width="0.5"/>
<line x1="40.04" y1="193" x2="40.04" y2="194.5" stroke="#6a6a6a" stroke-width="0.5"/>
<text x="40.04" y="340.7" class="tk" text-anchor="middle">50</text>
<line x1="57.68" y1="332.4" x2="57.68" y2="330.9" stroke="#6a6a6a" stroke-width="0.5"/>
<line x1="57.68" y1="193" x2="57.68" y2="194.5" stroke="#6a6a6a" stroke-width="0.5"/>
<text x="57.68" y="340.7" class="tk" text-anchor="middle">100</text>
<line x1="75.32" y1="332.4" x2="75.32" y2="330.9" stroke="#6a6a6a" stroke-width="0.5"/>
<line x1="75.32" y1="193" x2="75.32" y2="194.5" stroke="#6a6a6a" stroke-width="0.5"/>
<text x="75.32" y="340.7" class="tk" text-anchor="middle">150</text>
<line x1="92.96" y1="332.4" x2="92.96" y2="330.9" stroke="#6a6a6a" stroke-width="0.5"/>
<line x1="92.96" y1="193" x2="92.96" y2="194.5" stroke="#6a6a6a" stroke-width="0.5"/>
<text x="92.96" y="340.7" class="tk" text-anchor="middle">200</text>
<line x1="110.6" y1="332.4" x2="110.6" y2="330.9" stroke="#6a6a6a" stroke-width="0.5"/>
<line x1="110.6" y1="193" x2="110.6" y2="194.5" stroke="#6a6a6a" stroke-width="0.5"/>
<text x="110.6" y="340.7" class="tk" text-anchor="middle">250</text>
<line x1="128.24" y1="332.4" x2="128.24" y2="330.9" stroke="#6a6a6a" stroke-width="0.5"/>
<line x1="128.24" y1="193" x2="128.24" y2="194.5" stroke="#6a6a6a" stroke-width="0.5"/>
<text x="128.24" y="340.7" class="tk" text-anchor="middle">300</text>
<line x1="145.88" y1="332.4" x2="145.88" y2="330.9" stroke="#6a6a6a" stroke-width="0.5"/>
<line x1="145.88" y1="193" x2="145.88" y2="194.5" stroke="#6a6a6a" stroke-width="0.5"/>
<text x="145.88" y="340.7" class="tk" text-anchor="middle">350</text>
<line x1="163.52" y1="332.4" x2="163.52" y2="330.9" stroke="#6a6a6a" stroke-width="0.5"/>
<line x1="163.52" y1="193" x2="163.52" y2="194.5" stroke="#6a6a6a" stroke-width="0.5"/>
<text x="163.52" y="340.7" class="tk" text-anchor="middle">400</text>
<line x1="181.16" y1="332.4" x2="181.16" y2="330.9" stroke="#6a6a6a" stroke-width="0.5"/>
<line x1="181.16" y1="193" x2="181.16" y2="194.5" stroke="#6a6a6a" stroke-width="0.5"/>
<text x="181.16" y="340.7" class="tk" text-anchor="middle">450</text>
<line x1="198.8" y1="332.4" x2="198.8" y2="330.9" stroke="#6a6a6a" stroke-width="0.5"/>
<line x1="198.8" y1="193" x2="198.8" y2="194.5" stroke="#6a6a6a" stroke-width="0.5"/>
<text x="198.8" y="340.7" class="tk" text-anchor="middle">500</text>
<line x1="22.4" y1="193" x2="23.9" y2="193" stroke="#6a6a6a" stroke-width="0.5"/>
<line x1="198.8" y1="193" x2="197.3" y2="193" stroke="#6a6a6a" stroke-width="0.5"/>
<line x1="22.4" y1="227.85" x2="23.9" y2="227.85" stroke="#6a6a6a" stroke-width="0.5"/>
<line x1="198.8" y1="227.85" x2="197.3" y2="227.85" stroke="#6a6a6a" stroke-width="0.5"/>
<line x1="22.4" y1="262.7" x2="23.9" y2="262.7" stroke="#6a6a6a" stroke-width="0.5"/>
<line x1="198.8" y1="262.7" x2="197.3" y2="262.7" stroke="#6a6a6a" stroke-width="0.5"/>
<line x1="22.4" y1="297.55" x2="23.9" y2="297.55" stroke="#6a6a6a" stroke-width="0.5"/>
<line x1="198.8" y1="297.55" x2="197.3" y2="297.55" stroke="#6a6a6a" stroke-width="0.5"/>
<line x1="22.4" y1="332.4" x2="23.9" y2="332.4" stroke="#6a6a6a" stroke-width="0.5"/>
<line x1="198.8" y1="332.4" x2="197.3" y2="332.4" stroke="#6a6a6a" stroke-width="0.5"/>
<line x1="22.4" y1="325.43" x2="23.9" y2="325.43" stroke="#6a6a6a" stroke-width="0.5"/>
<line x1="198.8" y1="325.43" x2="197.3" y2="325.43" stroke="#6a6a6a" stroke-width="0.5"/>
<line x1="22.4" y1="318.46" x2="23.9" y2="318.46" stroke="#6a6a6a" stroke-width="0.5"/>
<line x1="198.8" y1="318.46" x2="197.3" y2="318.46" stroke="#6a6a6a" stroke-width="0.5"/>
<line x1="22.4" y1="311.49" x2="23.9" y2="311.49" stroke="#6a6a6a" stroke-width="0.5"/>
<line x1="198.8" y1="311.49" x2="197.3" y2="311.49" stroke="#6a6a6a" stroke-width="0.5"/>
<line x1="22.4" y1="304.52" x2="23.9" y2="304.52" stroke="#6a6a6a" stroke-width="0.5"/>
<line x1="198.8" y1="304.52" x2="197.3" y2="304.52" stroke="#6a6a6a" stroke-width="0.5"/>
<line x1="22.4" y1="290.58" x2="23.9" y2="290.58" stroke="#6a6a6a" stroke-width="0.5"/>
<line x1="198.8" y1="290.58" x2="197.3" y2="290.58" stroke="#6a6a6a" stroke-width="0.5"/>
<line x1="22.4" y1="283.61" x2="23.9" y2="283.61" stroke="#6a6a6a" stroke-width="0.5"/>
<line x1="198.8" y1="283.61" x2="197.3" y2="283.61" stroke="#6a6a6a" stroke-width="0.5"/>
<line x1="22.4" y1="276.64" x2="23.9" y2="276.64" stroke="#6a6a6a" stroke-width="0.5"/>
<line x1="198.8" y1="276.64" x2="197.3" y2="276.64" stroke="#6a6a6a" stroke-width="0.5"/>
<line x1="22.4" y1="269.67" x2="23.9" y2="269.67" stroke="#6a6a6a" stroke-width="0.5"/>
<line x1="198.8" y1="269.67" x2="197.3" y2="269.67" stroke="#6a6a6a" stroke-width="0.5"/>
<line x1="22.4" y1="255.73" x2="23.9" y2="255.73" stroke="#6a6a6a" stroke-width="0.5"/>
<line x1="198.8" y1="255.73" x2="197.3" y2="255.73" stroke="#6a6a6a" stroke-width="0.5"/>
<line x1="22.4" y1="248.76" x2="23.9" y2="248.76" stroke="#6a6a6a" stroke-width="0.5"/>
<line x1="198.8" y1="248.76" x2="197.3" y2="248.76" stroke="#6a6a6a" stroke-width="0.5"/>
<line x1="22.4" y1="241.79" x2="23.9" y2="241.79" stroke="#6a6a6a" stroke-width="0.5"/>
<line x1="198.8" y1="241.79" x2="197.3" y2="241.79" stroke="#6a6a6a" stroke-width="0.5"/>
<line x1="22.4" y1="234.82" x2="23.9" y2="234.82" stroke="#6a6a6a" stroke-width="0.5"/>
<line x1="198.8" y1="234.82" x2="197.3" y2="234.82" stroke="#6a6a6a" stroke-width="0.5"/>
<line x1="22.4" y1="220.88" x2="23.9" y2="220.88" stroke="#6a6a6a" stroke-width="0.5"/>
<line x1="198.8" y1="220.88" x2="197.3" y2="220.88" stroke="#6a6a6a" stroke-width="0.5"/>
<line x1="22.4" y1="213.91" x2="23.9" y2="213.91" stroke="#6a6a6a" stroke-width="0.5"/>
<line x1="198.8" y1="213.91" x2="197.3" y2="213.91" stroke="#6a6a6a" stroke-width="0.5"/>
<line x1="22.4" y1="206.94" x2="23.9" y2="206.94" stroke="#6a6a6a" stroke-width="0.5"/>
<line x1="198.8" y1="206.94" x2="197.3" y2="206.94" stroke="#6a6a6a" stroke-width="0.5"/>
<line x1="22.4" y1="199.97" x2="23.9" y2="199.97" stroke="#6a6a6a" stroke-width="0.5"/>
<line x1="198.8" y1="199.97" x2="197.3" y2="199.97" stroke="#6a6a6a" stroke-width="0.5"/>
<text x="19.5" y="196.3" class="tk" text-anchor="end">10<tspan class="sup" dx="0.4" dy="-3.3">5</tspan></text>
<text x="19.5" y="231.15" class="tk" text-anchor="end">10<tspan class="sup" dx="0.4" dy="-3.3">0</tspan></text>
<text x="19.5" y="266" class="tk" text-anchor="end">10<tspan class="sup" dx="0.4" dy="-3.3">-5</tspan></text>
<text x="19.5" y="300.85" class="tk" text-anchor="end">10<tspan class="sup" dx="0.4" dy="-3.3">-10</tspan></text>
<text x="19.5" y="335.7" class="tk" text-anchor="end">10<tspan class="sup" dx="0.4" dy="-3.3">-15</tspan></text>
<text x="110.6" y="190.4" class="ti" text-anchor="middle">F5</text>
<text x="110.6" y="346.7" class="xl" text-anchor="middle">iteration times</text>
<text transform="translate(7.2,262.7) rotate(-90)" class="yl" text-anchor="middle">adaptation degree</text>
<text x="103.2" y="363.8" class="cap" text-anchor="middle">(e)</text>
<rect x="162" y="197.7" width="31.2" height="24.9" fill="#fff" stroke="#6a6a6a" stroke-width="0.6"/>
<line x1="163.7" y1="201.6" x2="175.6" y2="201.6" stroke="#ff0000" stroke-width="1.5"/>
<text x="176.8" y="203.2" class="lg">MDBO</text>
<line x1="163.7" y1="207.55" x2="175.6" y2="207.55" stroke="#f7b10a" stroke-width="1.5" stroke-dasharray="1.5 1.8"/>
<text x="176.8" y="209.15" class="lg">EA</text>
<line x1="163.7" y1="213.5" x2="175.6" y2="213.5" stroke="#0070c4" stroke-width="1.45" stroke-dasharray="6 2.2 3.7"/>
<text x="176.8" y="215.1" class="lg">SSA</text>
<line x1="163.7" y1="219.45" x2="175.6" y2="219.45" stroke="#c61334" stroke-width="1.45" stroke-dasharray="6 2.2 3.7"/>
<text x="176.8" y="221.05" class="lg">PSO</text>
<line x1="233.4" y1="318.17" x2="409.8" y2="318.17" stroke="#efefef" stroke-width="0.5"/>
<line x1="233.4" y1="310.03" x2="409.8" y2="310.03" stroke="#efefef" stroke-width="0.5"/>
<line x1="233.4" y1="304.24" x2="409.8" y2="304.24" stroke="#efefef" stroke-width="0.5"/>
<line x1="233.4" y1="299.76" x2="409.8" y2="299.76" stroke="#efefef" stroke-width="0.5"/>
<line x1="233.4" y1="296.1" x2="409.8" y2="296.1" stroke="#efefef" stroke-width="0.5"/>
<line x1="233.4" y1="293" x2="409.8" y2="293" stroke="#efefef" stroke-width="0.5"/>
<line x1="233.4" y1="290.32" x2="409.8" y2="290.32" stroke="#efefef" stroke-width="0.5"/>
<line x1="233.4" y1="287.95" x2="409.8" y2="287.95" stroke="#efefef" stroke-width="0.5"/>
<line x1="233.4" y1="271.91" x2="409.8" y2="271.91" stroke="#efefef" stroke-width="0.5"/>
<line x1="233.4" y1="263.76" x2="409.8" y2="263.76" stroke="#efefef" stroke-width="0.5"/>
<line x1="233.4" y1="257.98" x2="409.8" y2="257.98" stroke="#efefef" stroke-width="0.5"/>
<line x1="233.4" y1="253.49" x2="409.8" y2="253.49" stroke="#efefef" stroke-width="0.5"/>
<line x1="233.4" y1="249.83" x2="409.8" y2="249.83" stroke="#efefef" stroke-width="0.5"/>
<line x1="233.4" y1="246.73" x2="409.8" y2="246.73" stroke="#efefef" stroke-width="0.5"/>
<line x1="233.4" y1="244.05" x2="409.8" y2="244.05" stroke="#efefef" stroke-width="0.5"/>
<line x1="233.4" y1="241.68" x2="409.8" y2="241.68" stroke="#efefef" stroke-width="0.5"/>
<line x1="233.4" y1="225.64" x2="409.8" y2="225.64" stroke="#efefef" stroke-width="0.5"/>
<line x1="233.4" y1="217.49" x2="409.8" y2="217.49" stroke="#efefef" stroke-width="0.5"/>
<line x1="233.4" y1="211.71" x2="409.8" y2="211.71" stroke="#efefef" stroke-width="0.5"/>
<line x1="233.4" y1="207.23" x2="409.8" y2="207.23" stroke="#efefef" stroke-width="0.5"/>
<line x1="233.4" y1="203.56" x2="409.8" y2="203.56" stroke="#efefef" stroke-width="0.5"/>
<line x1="233.4" y1="200.47" x2="409.8" y2="200.47" stroke="#efefef" stroke-width="0.5"/>
<line x1="233.4" y1="197.78" x2="409.8" y2="197.78" stroke="#efefef" stroke-width="0.5"/>
<line x1="233.4" y1="195.42" x2="409.8" y2="195.42" stroke="#efefef" stroke-width="0.5"/>
<line x1="251.04" y1="193.3" x2="251.04" y2="332.1" stroke="#e8e8e8" stroke-width="0.6"/>
<line x1="268.68" y1="193.3" x2="268.68" y2="332.1" stroke="#e8e8e8" stroke-width="0.6"/>
<line x1="286.32" y1="193.3" x2="286.32" y2="332.1" stroke="#e8e8e8" stroke-width="0.6"/>
<line x1="303.96" y1="193.3" x2="303.96" y2="332.1" stroke="#e8e8e8" stroke-width="0.6"/>
<line x1="321.6" y1="193.3" x2="321.6" y2="332.1" stroke="#e8e8e8" stroke-width="0.6"/>
<line x1="339.24" y1="193.3" x2="339.24" y2="332.1" stroke="#e8e8e8" stroke-width="0.6"/>
<line x1="356.88" y1="193.3" x2="356.88" y2="332.1" stroke="#e8e8e8" stroke-width="0.6"/>
<line x1="374.52" y1="193.3" x2="374.52" y2="332.1" stroke="#e8e8e8" stroke-width="0.6"/>
<line x1="392.16" y1="193.3" x2="392.16" y2="332.1" stroke="#e8e8e8" stroke-width="0.6"/>
<line x1="233.4" y1="239.57" x2="409.8" y2="239.57" stroke="#e8e8e8" stroke-width="0.6"/>
<line x1="233.4" y1="285.83" x2="409.8" y2="285.83" stroke="#e8e8e8" stroke-width="0.6"/>
<polyline fill="none" stroke="#ff0000" stroke-width="1.6" stroke-linejoin="round" points="233.6,270 233.7,292.9 235,300.5 235.9,308.2 236.7,328.5 238.2,332.1 409.8,332.1"/>
<polyline fill="none" stroke="#f7b10a" stroke-width="1.7" stroke-dasharray="1.6 1.7" stroke-linejoin="round" points="233.8,238.2 234.2,270 235.6,291.6 237.5,295.4 238.8,301.8 240.7,308.2 242,318.3 243.3,326 243.5,332.1 409.8,332.1"/>
<polyline fill="none" stroke="#0070c4" stroke-width="1.6" stroke-dasharray="6.2 1.8 2.8 1.8" stroke-linejoin="round" points="233.6,292 233.7,292.9 235,293.2 246.4,293.2 246.8,332.1 409.8,332.1"/>
<polyline fill="none" stroke="#c61334" stroke-width="1.6" stroke-dasharray="4.6 1.8 2.6 1.8" stroke-linejoin="round" points="233.7,252.7 233.9,290 233.7,300.5 235.6,303.7 245.8,304.1 247.7,306.9 251.5,318.3 253.4,324.7 254,332.1 409.8,332.1"/>
<rect x="233.4" y="193.3" width="176.4" height="138.8" fill="none" stroke="#6a6a6a" stroke-width="0.6"/>
<line x1="233.4" y1="332.1" x2="233.4" y2="330.6" stroke="#6a6a6a" stroke-width="0.5"/>
<line x1="233.4" y1="193.3" x2="233.4" y2="194.8" stroke="#6a6a6a" stroke-width="0.5"/>
<text x="233.4" y="340.4" class="tk" text-anchor="middle">0</text>
<line x1="251.04" y1="332.1" x2="251.04" y2="330.6" stroke="#6a6a6a" stroke-width="0.5"/>
<line x1="251.04" y1="193.3" x2="251.04" y2="194.8" stroke="#6a6a6a" stroke-width="0.5"/>
<text x="251.04" y="340.4" class="tk" text-anchor="middle">50</text>
<line x1="268.68" y1="332.1" x2="268.68" y2="330.6" stroke="#6a6a6a" stroke-width="0.5"/>
<line x1="268.68" y1="193.3" x2="268.68" y2="194.8" stroke="#6a6a6a" stroke-width="0.5"/>
<text x="268.68" y="340.4" class="tk" text-anchor="middle">100</text>
<line x1="286.32" y1="332.1" x2="286.32" y2="330.6" stroke="#6a6a6a" stroke-width="0.5"/>
<line x1="286.32" y1="193.3" x2="286.32" y2="194.8" stroke="#6a6a6a" stroke-width="0.5"/>
<text x="286.32" y="340.4" class="tk" text-anchor="middle">150</text>
<line x1="303.96" y1="332.1" x2="303.96" y2="330.6" stroke="#6a6a6a" stroke-width="0.5"/>
<line x1="303.96" y1="193.3" x2="303.96" y2="194.8" stroke="#6a6a6a" stroke-width="0.5"/>
<text x="303.96" y="340.4" class="tk" text-anchor="middle">200</text>
<line x1="321.6" y1="332.1" x2="321.6" y2="330.6" stroke="#6a6a6a" stroke-width="0.5"/>
<line x1="321.6" y1="193.3" x2="321.6" y2="194.8" stroke="#6a6a6a" stroke-width="0.5"/>
<text x="321.6" y="340.4" class="tk" text-anchor="middle">250</text>
<line x1="339.24" y1="332.1" x2="339.24" y2="330.6" stroke="#6a6a6a" stroke-width="0.5"/>
<line x1="339.24" y1="193.3" x2="339.24" y2="194.8" stroke="#6a6a6a" stroke-width="0.5"/>
<text x="339.24" y="340.4" class="tk" text-anchor="middle">300</text>
<line x1="356.88" y1="332.1" x2="356.88" y2="330.6" stroke="#6a6a6a" stroke-width="0.5"/>
<line x1="356.88" y1="193.3" x2="356.88" y2="194.8" stroke="#6a6a6a" stroke-width="0.5"/>
<text x="356.88" y="340.4" class="tk" text-anchor="middle">350</text>
<line x1="374.52" y1="332.1" x2="374.52" y2="330.6" stroke="#6a6a6a" stroke-width="0.5"/>
<line x1="374.52" y1="193.3" x2="374.52" y2="194.8" stroke="#6a6a6a" stroke-width="0.5"/>
<text x="374.52" y="340.4" class="tk" text-anchor="middle">400</text>
<line x1="392.16" y1="332.1" x2="392.16" y2="330.6" stroke="#6a6a6a" stroke-width="0.5"/>
<line x1="392.16" y1="193.3" x2="392.16" y2="194.8" stroke="#6a6a6a" stroke-width="0.5"/>
<text x="392.16" y="340.4" class="tk" text-anchor="middle">450</text>
<line x1="409.8" y1="332.1" x2="409.8" y2="330.6" stroke="#6a6a6a" stroke-width="0.5"/>
<line x1="409.8" y1="193.3" x2="409.8" y2="194.8" stroke="#6a6a6a" stroke-width="0.5"/>
<text x="409.8" y="340.4" class="tk" text-anchor="middle">500</text>
<line x1="233.4" y1="193.3" x2="234.9" y2="193.3" stroke="#6a6a6a" stroke-width="0.5"/>
<line x1="409.8" y1="193.3" x2="408.3" y2="193.3" stroke="#6a6a6a" stroke-width="0.5"/>
<line x1="233.4" y1="239.57" x2="234.9" y2="239.57" stroke="#6a6a6a" stroke-width="0.5"/>
<line x1="409.8" y1="239.57" x2="408.3" y2="239.57" stroke="#6a6a6a" stroke-width="0.5"/>
<line x1="233.4" y1="285.83" x2="234.9" y2="285.83" stroke="#6a6a6a" stroke-width="0.5"/>
<line x1="409.8" y1="285.83" x2="408.3" y2="285.83" stroke="#6a6a6a" stroke-width="0.5"/>
<line x1="233.4" y1="332.1" x2="234.9" y2="332.1" stroke="#6a6a6a" stroke-width="0.5"/>
<line x1="409.8" y1="332.1" x2="408.3" y2="332.1" stroke="#6a6a6a" stroke-width="0.5"/>
<line x1="233.4" y1="318.17" x2="234.9" y2="318.17" stroke="#6a6a6a" stroke-width="0.5"/>
<line x1="409.8" y1="318.17" x2="408.3" y2="318.17" stroke="#6a6a6a" stroke-width="0.5"/>
<line x1="233.4" y1="310.03" x2="234.9" y2="310.03" stroke="#6a6a6a" stroke-width="0.5"/>
<line x1="409.8" y1="310.03" x2="408.3" y2="310.03" stroke="#6a6a6a" stroke-width="0.5"/>
<line x1="233.4" y1="304.24" x2="234.9" y2="304.24" stroke="#6a6a6a" stroke-width="0.5"/>
<line x1="409.8" y1="304.24" x2="408.3" y2="304.24" stroke="#6a6a6a" stroke-width="0.5"/>
<line x1="233.4" y1="299.76" x2="234.9" y2="299.76" stroke="#6a6a6a" stroke-width="0.5"/>
<line x1="409.8" y1="299.76" x2="408.3" y2="299.76" stroke="#6a6a6a" stroke-width="0.5"/>
<line x1="233.4" y1="296.1" x2="234.9" y2="296.1" stroke="#6a6a6a" stroke-width="0.5"/>
<line x1="409.8" y1="296.1" x2="408.3" y2="296.1" stroke="#6a6a6a" stroke-width="0.5"/>
<line x1="233.4" y1="293" x2="234.9" y2="293" stroke="#6a6a6a" stroke-width="0.5"/>
<line x1="409.8" y1="293" x2="408.3" y2="293" stroke="#6a6a6a" stroke-width="0.5"/>
<line x1="233.4" y1="290.32" x2="234.9" y2="290.32" stroke="#6a6a6a" stroke-width="0.5"/>
<line x1="409.8" y1="290.32" x2="408.3" y2="290.32" stroke="#6a6a6a" stroke-width="0.5"/>
<line x1="233.4" y1="287.95" x2="234.9" y2="287.95" stroke="#6a6a6a" stroke-width="0.5"/>
<line x1="409.8" y1="287.95" x2="408.3" y2="287.95" stroke="#6a6a6a" stroke-width="0.5"/>
<line x1="233.4" y1="271.91" x2="234.9" y2="271.91" stroke="#6a6a6a" stroke-width="0.5"/>
<line x1="409.8" y1="271.91" x2="408.3" y2="271.91" stroke="#6a6a6a" stroke-width="0.5"/>
<line x1="233.4" y1="263.76" x2="234.9" y2="263.76" stroke="#6a6a6a" stroke-width="0.5"/>
<line x1="409.8" y1="263.76" x2="408.3" y2="263.76" stroke="#6a6a6a" stroke-width="0.5"/>
<line x1="233.4" y1="257.98" x2="234.9" y2="257.98" stroke="#6a6a6a" stroke-width="0.5"/>
<line x1="409.8" y1="257.98" x2="408.3" y2="257.98" stroke="#6a6a6a" stroke-width="0.5"/>
<line x1="233.4" y1="253.49" x2="234.9" y2="253.49" stroke="#6a6a6a" stroke-width="0.5"/>
<line x1="409.8" y1="253.49" x2="408.3" y2="253.49" stroke="#6a6a6a" stroke-width="0.5"/>
<line x1="233.4" y1="249.83" x2="234.9" y2="249.83" stroke="#6a6a6a" stroke-width="0.5"/>
<line x1="409.8" y1="249.83" x2="408.3" y2="249.83" stroke="#6a6a6a" stroke-width="0.5"/>
<line x1="233.4" y1="246.73" x2="234.9" y2="246.73" stroke="#6a6a6a" stroke-width="0.5"/>
<line x1="409.8" y1="246.73" x2="408.3" y2="246.73" stroke="#6a6a6a" stroke-width="0.5"/>
<line x1="233.4" y1="244.05" x2="234.9" y2="244.05" stroke="#6a6a6a" stroke-width="0.5"/>
<line x1="409.8" y1="244.05" x2="408.3" y2="244.05" stroke="#6a6a6a" stroke-width="0.5"/>
<line x1="233.4" y1="241.68" x2="234.9" y2="241.68" stroke="#6a6a6a" stroke-width="0.5"/>
<line x1="409.8" y1="241.68" x2="408.3" y2="241.68" stroke="#6a6a6a" stroke-width="0.5"/>
<line x1="233.4" y1="225.64" x2="234.9" y2="225.64" stroke="#6a6a6a" stroke-width="0.5"/>
<line x1="409.8" y1="225.64" x2="408.3" y2="225.64" stroke="#6a6a6a" stroke-width="0.5"/>
<line x1="233.4" y1="217.49" x2="234.9" y2="217.49" stroke="#6a6a6a" stroke-width="0.5"/>
<line x1="409.8" y1="217.49" x2="408.3" y2="217.49" stroke="#6a6a6a" stroke-width="0.5"/>
<line x1="233.4" y1="211.71" x2="234.9" y2="211.71" stroke="#6a6a6a" stroke-width="0.5"/>
<line x1="409.8" y1="211.71" x2="408.3" y2="211.71" stroke="#6a6a6a" stroke-width="0.5"/>
<line x1="233.4" y1="207.23" x2="234.9" y2="207.23" stroke="#6a6a6a" stroke-width="0.5"/>
<line x1="409.8" y1="207.23" x2="408.3" y2="207.23" stroke="#6a6a6a" stroke-width="0.5"/>
<line x1="233.4" y1="203.56" x2="234.9" y2="203.56" stroke="#6a6a6a" stroke-width="0.5"/>
<line x1="409.8" y1="203.56" x2="408.3" y2="203.56" stroke="#6a6a6a" stroke-width="0.5"/>
<line x1="233.4" y1="200.47" x2="234.9" y2="200.47" stroke="#6a6a6a" stroke-width="0.5"/>
<line x1="409.8" y1="200.47" x2="408.3" y2="200.47" stroke="#6a6a6a" stroke-width="0.5"/>
<line x1="233.4" y1="197.78" x2="234.9" y2="197.78" stroke="#6a6a6a" stroke-width="0.5"/>
<line x1="409.8" y1="197.78" x2="408.3" y2="197.78" stroke="#6a6a6a" stroke-width="0.5"/>
<line x1="233.4" y1="195.42" x2="234.9" y2="195.42" stroke="#6a6a6a" stroke-width="0.5"/>
<line x1="409.8" y1="195.42" x2="408.3" y2="195.42" stroke="#6a6a6a" stroke-width="0.5"/>
<text x="230.5" y="196.6" class="tk" text-anchor="end">10<tspan class="sup" dx="0.4" dy="-3.3">3</tspan></text>
<text x="230.5" y="242.87" class="tk" text-anchor="end">10<tspan class="sup" dx="0.4" dy="-3.3">2</tspan></text>
<text x="230.5" y="289.13" class="tk" text-anchor="end">10<tspan class="sup" dx="0.4" dy="-3.3">1</tspan></text>
<text x="230.5" y="335.4" class="tk" text-anchor="end">10<tspan class="sup" dx="0.4" dy="-3.3">0</tspan></text>
<text x="321.6" y="190.7" class="ti" text-anchor="middle">F6</text>
<text x="321.6" y="346.1" class="xl" text-anchor="middle">iteration times</text>
<text transform="translate(220.4,262.7) rotate(-90)" class="yl" text-anchor="middle">adaptation degree</text>
<text x="314.2" y="363" class="cap" text-anchor="middle">(f)</text>
<rect x="373" y="197.9" width="31.6" height="28.1" fill="#fff" stroke="#6a6a6a" stroke-width="0.6"/>
<line x1="374.7" y1="202.3" x2="386.6" y2="202.3" stroke="#ff0000" stroke-width="1.5"/>
<text x="387.8" y="203.9" class="lgs">MDBO</text>
<line x1="374.7" y1="209.15" x2="386.6" y2="209.15" stroke="#f7b10a" stroke-width="1.5" stroke-dasharray="1.5 1.8"/>
<text x="387.8" y="210.75" class="lgs">EA</text>
<line x1="374.7" y1="216" x2="386.6" y2="216" stroke="#0070c4" stroke-width="1.45" stroke-dasharray="6 2.2 3.7"/>
<text x="387.8" y="217.6" class="lgs">SSA</text>
<line x1="374.7" y1="222.85" x2="386.6" y2="222.85" stroke="#c61334" stroke-width="1.45" stroke-dasharray="6 2.2 3.7"/>
<text x="387.8" y="224.45" class="lgs">PSO</text>
<line x1="24.9" y1="507.75" x2="199.2" y2="507.75" stroke="#efefef" stroke-width="0.5"/>
<line x1="24.9" y1="500.9" x2="199.2" y2="500.9" stroke="#efefef" stroke-width="0.5"/>
<line x1="24.9" y1="494.05" x2="199.2" y2="494.05" stroke="#efefef" stroke-width="0.5"/>
<line x1="24.9" y1="487.2" x2="199.2" y2="487.2" stroke="#efefef" stroke-width="0.5"/>
<line x1="24.9" y1="473.5" x2="199.2" y2="473.5" stroke="#efefef" stroke-width="0.5"/>
<line x1="24.9" y1="466.65" x2="199.2" y2="466.65" stroke="#efefef" stroke-width="0.5"/>
<line x1="24.9" y1="459.8" x2="199.2" y2="459.8" stroke="#efefef" stroke-width="0.5"/>
<line x1="24.9" y1="452.95" x2="199.2" y2="452.95" stroke="#efefef" stroke-width="0.5"/>
<line x1="24.9" y1="439.25" x2="199.2" y2="439.25" stroke="#efefef" stroke-width="0.5"/>
<line x1="24.9" y1="432.4" x2="199.2" y2="432.4" stroke="#efefef" stroke-width="0.5"/>
<line x1="24.9" y1="425.55" x2="199.2" y2="425.55" stroke="#efefef" stroke-width="0.5"/>
<line x1="24.9" y1="418.7" x2="199.2" y2="418.7" stroke="#efefef" stroke-width="0.5"/>
<line x1="24.9" y1="405" x2="199.2" y2="405" stroke="#efefef" stroke-width="0.5"/>
<line x1="24.9" y1="398.15" x2="199.2" y2="398.15" stroke="#efefef" stroke-width="0.5"/>
<line x1="24.9" y1="391.3" x2="199.2" y2="391.3" stroke="#efefef" stroke-width="0.5"/>
<line x1="24.9" y1="384.45" x2="199.2" y2="384.45" stroke="#efefef" stroke-width="0.5"/>
<line x1="42.33" y1="377.6" x2="42.33" y2="514.6" stroke="#e8e8e8" stroke-width="0.6"/>
<line x1="59.76" y1="377.6" x2="59.76" y2="514.6" stroke="#e8e8e8" stroke-width="0.6"/>
<line x1="77.19" y1="377.6" x2="77.19" y2="514.6" stroke="#e8e8e8" stroke-width="0.6"/>
<line x1="94.62" y1="377.6" x2="94.62" y2="514.6" stroke="#e8e8e8" stroke-width="0.6"/>
<line x1="112.05" y1="377.6" x2="112.05" y2="514.6" stroke="#e8e8e8" stroke-width="0.6"/>
<line x1="129.48" y1="377.6" x2="129.48" y2="514.6" stroke="#e8e8e8" stroke-width="0.6"/>
<line x1="146.91" y1="377.6" x2="146.91" y2="514.6" stroke="#e8e8e8" stroke-width="0.6"/>
<line x1="164.34" y1="377.6" x2="164.34" y2="514.6" stroke="#e8e8e8" stroke-width="0.6"/>
<line x1="181.77" y1="377.6" x2="181.77" y2="514.6" stroke="#e8e8e8" stroke-width="0.6"/>
<line x1="24.9" y1="411.85" x2="199.2" y2="411.85" stroke="#e8e8e8" stroke-width="0.6"/>
<line x1="24.9" y1="446.1" x2="199.2" y2="446.1" stroke="#e8e8e8" stroke-width="0.6"/>
<line x1="24.9" y1="480.35" x2="199.2" y2="480.35" stroke="#e8e8e8" stroke-width="0.6"/>
<polyline fill="none" stroke="#ff0000" stroke-width="1.6" stroke-linejoin="round" points="25.3,394.6 26.5,405.9 28.2,416.8 28.7,423.4 28.9,431.5 34.2,431.5 36.4,433.7 39.6,436.4 40.7,439.7 41.4,448.2 42.1,460.5 43.4,471.4 45.5,480.9 46.1,487.7 46.8,494.6 47.2,500.7"/>
<polyline fill="none" stroke="#f7b10a" stroke-width="1.7" stroke-dasharray="1.6 1.7" stroke-linejoin="round" points="24.9,394.2 60,394.9 120,396 199.2,398"/>
<polyline fill="none" stroke="#0070c4" stroke-width="1.6" stroke-dasharray="6.2 1.8 2.8 1.8" stroke-linejoin="round" points="24.9,397.2 25.5,405.9 26.5,412.4 28.2,419 30.4,422.3 32,427.7 33.6,433.2 35.3,437.5 38,443 40.7,447.3 43.4,449.5 44.2,450.5 44.2,471.4 45.5,475.5 47.5,480.9 49.6,486.4 51.6,491.8 53.6,497.3 56.4,504"/>
<polyline fill="none" stroke="#c61334" stroke-width="1.6" stroke-dasharray="4.6 1.8 2.6 1.8" stroke-linejoin="round" points="24.9,394.2 60,394.9 120,396 199.2,398"/>
<rect x="24.9" y="377.6" width="174.3" height="137" fill="none" stroke="#6a6a6a" stroke-width="0.6"/>
<line x1="24.9" y1="514.6" x2="24.9" y2="513.1" stroke="#6a6a6a" stroke-width="0.5"/>
<line x1="24.9" y1="377.6" x2="24.9" y2="379.1" stroke="#6a6a6a" stroke-width="0.5"/>
<text x="24.9" y="522.9" class="tk" text-anchor="middle">0</text>
<line x1="42.33" y1="514.6" x2="42.33" y2="513.1" stroke="#6a6a6a" stroke-width="0.5"/>
<line x1="42.33" y1="377.6" x2="42.33" y2="379.1" stroke="#6a6a6a" stroke-width="0.5"/>
<text x="42.33" y="522.9" class="tk" text-anchor="middle">50</text>
<line x1="59.76" y1="514.6" x2="59.76" y2="513.1" stroke="#6a6a6a" stroke-width="0.5"/>
<line x1="59.76" y1="377.6" x2="59.76" y2="379.1" stroke="#6a6a6a" stroke-width="0.5"/>
<text x="59.76" y="522.9" class="tk" text-anchor="middle">100</text>
<line x1="77.19" y1="514.6" x2="77.19" y2="513.1" stroke="#6a6a6a" stroke-width="0.5"/>
<line x1="77.19" y1="377.6" x2="77.19" y2="379.1" stroke="#6a6a6a" stroke-width="0.5"/>
<text x="77.19" y="522.9" class="tk" text-anchor="middle">150</text>
<line x1="94.62" y1="514.6" x2="94.62" y2="513.1" stroke="#6a6a6a" stroke-width="0.5"/>
<line x1="94.62" y1="377.6" x2="94.62" y2="379.1" stroke="#6a6a6a" stroke-width="0.5"/>
<text x="94.62" y="522.9" class="tk" text-anchor="middle">200</text>
<line x1="112.05" y1="514.6" x2="112.05" y2="513.1" stroke="#6a6a6a" stroke-width="0.5"/>
<line x1="112.05" y1="377.6" x2="112.05" y2="379.1" stroke="#6a6a6a" stroke-width="0.5"/>
<text x="112.05" y="522.9" class="tk" text-anchor="middle">250</text>
<line x1="129.48" y1="514.6" x2="129.48" y2="513.1" stroke="#6a6a6a" stroke-width="0.5"/>
<line x1="129.48" y1="377.6" x2="129.48" y2="379.1" stroke="#6a6a6a" stroke-width="0.5"/>
<text x="129.48" y="522.9" class="tk" text-anchor="middle">300</text>
<line x1="146.91" y1="514.6" x2="146.91" y2="513.1" stroke="#6a6a6a" stroke-width="0.5"/>
<line x1="146.91" y1="377.6" x2="146.91" y2="379.1" stroke="#6a6a6a" stroke-width="0.5"/>
<text x="146.91" y="522.9" class="tk" text-anchor="middle">350</text>
<line x1="164.34" y1="514.6" x2="164.34" y2="513.1" stroke="#6a6a6a" stroke-width="0.5"/>
<line x1="164.34" y1="377.6" x2="164.34" y2="379.1" stroke="#6a6a6a" stroke-width="0.5"/>
<text x="164.34" y="522.9" class="tk" text-anchor="middle">400</text>
<line x1="181.77" y1="514.6" x2="181.77" y2="513.1" stroke="#6a6a6a" stroke-width="0.5"/>
<line x1="181.77" y1="377.6" x2="181.77" y2="379.1" stroke="#6a6a6a" stroke-width="0.5"/>
<text x="181.77" y="522.9" class="tk" text-anchor="middle">450</text>
<line x1="199.2" y1="514.6" x2="199.2" y2="513.1" stroke="#6a6a6a" stroke-width="0.5"/>
<line x1="199.2" y1="377.6" x2="199.2" y2="379.1" stroke="#6a6a6a" stroke-width="0.5"/>
<text x="199.2" y="522.9" class="tk" text-anchor="middle">500</text>
<line x1="24.9" y1="377.6" x2="26.4" y2="377.6" stroke="#6a6a6a" stroke-width="0.5"/>
<line x1="199.2" y1="377.6" x2="197.7" y2="377.6" stroke="#6a6a6a" stroke-width="0.5"/>
<line x1="24.9" y1="411.85" x2="26.4" y2="411.85" stroke="#6a6a6a" stroke-width="0.5"/>
<line x1="199.2" y1="411.85" x2="197.7" y2="411.85" stroke="#6a6a6a" stroke-width="0.5"/>
<line x1="24.9" y1="446.1" x2="26.4" y2="446.1" stroke="#6a6a6a" stroke-width="0.5"/>
<line x1="199.2" y1="446.1" x2="197.7" y2="446.1" stroke="#6a6a6a" stroke-width="0.5"/>
<line x1="24.9" y1="480.35" x2="26.4" y2="480.35" stroke="#6a6a6a" stroke-width="0.5"/>
<line x1="199.2" y1="480.35" x2="197.7" y2="480.35" stroke="#6a6a6a" stroke-width="0.5"/>
<line x1="24.9" y1="514.6" x2="26.4" y2="514.6" stroke="#6a6a6a" stroke-width="0.5"/>
<line x1="199.2" y1="514.6" x2="197.7" y2="514.6" stroke="#6a6a6a" stroke-width="0.5"/>
<line x1="24.9" y1="507.75" x2="26.4" y2="507.75" stroke="#6a6a6a" stroke-width="0.5"/>
<line x1="199.2" y1="507.75" x2="197.7" y2="507.75" stroke="#6a6a6a" stroke-width="0.5"/>
<line x1="24.9" y1="500.9" x2="26.4" y2="500.9" stroke="#6a6a6a" stroke-width="0.5"/>
<line x1="199.2" y1="500.9" x2="197.7" y2="500.9" stroke="#6a6a6a" stroke-width="0.5"/>
<line x1="24.9" y1="494.05" x2="26.4" y2="494.05" stroke="#6a6a6a" stroke-width="0.5"/>
<line x1="199.2" y1="494.05" x2="197.7" y2="494.05" stroke="#6a6a6a" stroke-width="0.5"/>
<line x1="24.9" y1="487.2" x2="26.4" y2="487.2" stroke="#6a6a6a" stroke-width="0.5"/>
<line x1="199.2" y1="487.2" x2="197.7" y2="487.2" stroke="#6a6a6a" stroke-width="0.5"/>
<line x1="24.9" y1="473.5" x2="26.4" y2="473.5" stroke="#6a6a6a" stroke-width="0.5"/>
<line x1="199.2" y1="473.5" x2="197.7" y2="473.5" stroke="#6a6a6a" stroke-width="0.5"/>
<line x1="24.9" y1="466.65" x2="26.4" y2="466.65" stroke="#6a6a6a" stroke-width="0.5"/>
<line x1="199.2" y1="466.65" x2="197.7" y2="466.65" stroke="#6a6a6a" stroke-width="0.5"/>
<line x1="24.9" y1="459.8" x2="26.4" y2="459.8" stroke="#6a6a6a" stroke-width="0.5"/>
<line x1="199.2" y1="459.8" x2="197.7" y2="459.8" stroke="#6a6a6a" stroke-width="0.5"/>
<line x1="24.9" y1="452.95" x2="26.4" y2="452.95" stroke="#6a6a6a" stroke-width="0.5"/>
<line x1="199.2" y1="452.95" x2="197.7" y2="452.95" stroke="#6a6a6a" stroke-width="0.5"/>
<line x1="24.9" y1="439.25" x2="26.4" y2="439.25" stroke="#6a6a6a" stroke-width="0.5"/>
<line x1="199.2" y1="439.25" x2="197.7" y2="439.25" stroke="#6a6a6a" stroke-width="0.5"/>
<line x1="24.9" y1="432.4" x2="26.4" y2="432.4" stroke="#6a6a6a" stroke-width="0.5"/>
<line x1="199.2" y1="432.4" x2="197.7" y2="432.4" stroke="#6a6a6a" stroke-width="0.5"/>
<line x1="24.9" y1="425.55" x2="26.4" y2="425.55" stroke="#6a6a6a" stroke-width="0.5"/>
<line x1="199.2" y1="425.55" x2="197.7" y2="425.55" stroke="#6a6a6a" stroke-width="0.5"/>
<line x1="24.9" y1="418.7" x2="26.4" y2="418.7" stroke="#6a6a6a" stroke-width="0.5"/>
<line x1="199.2" y1="418.7" x2="197.7" y2="418.7" stroke="#6a6a6a" stroke-width="0.5"/>
<line x1="24.9" y1="405" x2="26.4" y2="405" stroke="#6a6a6a" stroke-width="0.5"/>
<line x1="199.2" y1="405" x2="197.7" y2="405" stroke="#6a6a6a" stroke-width="0.5"/>
<line x1="24.9" y1="398.15" x2="26.4" y2="398.15" stroke="#6a6a6a" stroke-width="0.5"/>
<line x1="199.2" y1="398.15" x2="197.7" y2="398.15" stroke="#6a6a6a" stroke-width="0.5"/>
<line x1="24.9" y1="391.3" x2="26.4" y2="391.3" stroke="#6a6a6a" stroke-width="0.5"/>
<line x1="199.2" y1="391.3" x2="197.7" y2="391.3" stroke="#6a6a6a" stroke-width="0.5"/>
<line x1="24.9" y1="384.45" x2="26.4" y2="384.45" stroke="#6a6a6a" stroke-width="0.5"/>
<line x1="199.2" y1="384.45" x2="197.7" y2="384.45" stroke="#6a6a6a" stroke-width="0.5"/>
<text x="22" y="380.9" class="tk" text-anchor="end">10<tspan class="sup" dx="0.4" dy="-3.3">5</tspan></text>
<text x="22" y="415.15" class="tk" text-anchor="end">10<tspan class="sup" dx="0.4" dy="-3.3">0</tspan></text>
<text x="22" y="449.4" class="tk" text-anchor="end">10<tspan class="sup" dx="0.4" dy="-3.3">-5</tspan></text>
<text x="22" y="483.65" class="tk" text-anchor="end">10<tspan class="sup" dx="0.4" dy="-3.3">-10</tspan></text>
<text x="22" y="517.9" class="tk" text-anchor="end">10<tspan class="sup" dx="0.4" dy="-3.3">-15</tspan></text>
<text x="112.05" y="375" class="ti" text-anchor="middle">F7</text>
<text x="112.05" y="529.2" class="xl" text-anchor="middle">iteration times</text>
<text transform="translate(7.6,446.1) rotate(-90)" class="yl" text-anchor="middle">adaptation degree</text>
<text x="104.65" y="546.1" class="cap" text-anchor="middle">(g)</text>
<rect x="156.4" y="413.5" width="30.4" height="23.9" fill="#fff" stroke="#6a6a6a" stroke-width="0.6"/>
<line x1="158.1" y1="417" x2="170" y2="417" stroke="#ff0000" stroke-width="1.5"/>
<text x="171.2" y="418.6" class="lg7">MDBO</text>
<line x1="158.1" y1="422.95" x2="170" y2="422.95" stroke="#f7b10a" stroke-width="1.5" stroke-dasharray="1.5 1.8"/>
<text x="171.2" y="424.55" class="lg7">EA</text>
<line x1="158.1" y1="428.9" x2="170" y2="428.9" stroke="#0070c4" stroke-width="1.45" stroke-dasharray="6 2.2 3.7"/>
<text x="171.2" y="430.5" class="lg7">SSA</text>
<line x1="158.1" y1="434.85" x2="170" y2="434.85" stroke="#c61334" stroke-width="1.45" stroke-dasharray="6 2.2 3.7"/>
<text x="171.2" y="436.45" class="lg7">PSO</text>
<line x1="234.4" y1="500.54" x2="410.4" y2="500.54" stroke="#efefef" stroke-width="0.5"/>
<line x1="234.4" y1="492.38" x2="410.4" y2="492.38" stroke="#efefef" stroke-width="0.5"/>
<line x1="234.4" y1="486.58" x2="410.4" y2="486.58" stroke="#efefef" stroke-width="0.5"/>
<line x1="234.4" y1="482.09" x2="410.4" y2="482.09" stroke="#efefef" stroke-width="0.5"/>
<line x1="234.4" y1="478.42" x2="410.4" y2="478.42" stroke="#efefef" stroke-width="0.5"/>
<line x1="234.4" y1="475.32" x2="410.4" y2="475.32" stroke="#efefef" stroke-width="0.5"/>
<line x1="234.4" y1="472.63" x2="410.4" y2="472.63" stroke="#efefef" stroke-width="0.5"/>
<line x1="234.4" y1="470.25" x2="410.4" y2="470.25" stroke="#efefef" stroke-width="0.5"/>
<line x1="234.4" y1="454.18" x2="410.4" y2="454.18" stroke="#efefef" stroke-width="0.5"/>
<line x1="234.4" y1="446.01" x2="410.4" y2="446.01" stroke="#efefef" stroke-width="0.5"/>
<line x1="234.4" y1="440.22" x2="410.4" y2="440.22" stroke="#efefef" stroke-width="0.5"/>
<line x1="234.4" y1="435.72" x2="410.4" y2="435.72" stroke="#efefef" stroke-width="0.5"/>
<line x1="234.4" y1="432.05" x2="410.4" y2="432.05" stroke="#efefef" stroke-width="0.5"/>
<line x1="234.4" y1="428.95" x2="410.4" y2="428.95" stroke="#efefef" stroke-width="0.5"/>
<line x1="234.4" y1="426.26" x2="410.4" y2="426.26" stroke="#efefef" stroke-width="0.5"/>
<line x1="234.4" y1="423.89" x2="410.4" y2="423.89" stroke="#efefef" stroke-width="0.5"/>
<line x1="234.4" y1="407.81" x2="410.4" y2="407.81" stroke="#efefef" stroke-width="0.5"/>
<line x1="234.4" y1="399.64" x2="410.4" y2="399.64" stroke="#efefef" stroke-width="0.5"/>
<line x1="234.4" y1="393.85" x2="410.4" y2="393.85" stroke="#efefef" stroke-width="0.5"/>
<line x1="234.4" y1="389.36" x2="410.4" y2="389.36" stroke="#efefef" stroke-width="0.5"/>
<line x1="234.4" y1="385.69" x2="410.4" y2="385.69" stroke="#efefef" stroke-width="0.5"/>
<line x1="234.4" y1="382.58" x2="410.4" y2="382.58" stroke="#efefef" stroke-width="0.5"/>
<line x1="234.4" y1="379.89" x2="410.4" y2="379.89" stroke="#efefef" stroke-width="0.5"/>
<line x1="234.4" y1="377.52" x2="410.4" y2="377.52" stroke="#efefef" stroke-width="0.5"/>
<line x1="252" y1="375.4" x2="252" y2="514.5" stroke="#e8e8e8" stroke-width="0.6"/>
<line x1="269.6" y1="375.4" x2="269.6" y2="514.5" stroke="#e8e8e8" stroke-width="0.6"/>
<line x1="287.2" y1="375.4" x2="287.2" y2="514.5" stroke="#e8e8e8" stroke-width="0.6"/>
<line x1="304.8" y1="375.4" x2="304.8" y2="514.5" stroke="#e8e8e8" stroke-width="0.6"/>
<line x1="322.4" y1="375.4" x2="322.4" y2="514.5" stroke="#e8e8e8" stroke-width="0.6"/>
<line x1="340" y1="375.4" x2="340" y2="514.5" stroke="#e8e8e8" stroke-width="0.6"/>
<line x1="357.6" y1="375.4" x2="357.6" y2="514.5" stroke="#e8e8e8" stroke-width="0.6"/>
<line x1="375.2" y1="375.4" x2="375.2" y2="514.5" stroke="#e8e8e8" stroke-width="0.6"/>
<line x1="392.8" y1="375.4" x2="392.8" y2="514.5" stroke="#e8e8e8" stroke-width="0.6"/>
<line x1="234.4" y1="421.77" x2="410.4" y2="421.77" stroke="#e8e8e8" stroke-width="0.6"/>
<line x1="234.4" y1="468.13" x2="410.4" y2="468.13" stroke="#e8e8e8" stroke-width="0.6"/>
<polyline fill="none" stroke="#ff0000" stroke-width="1.6" stroke-linejoin="round" points="234.3,410.9 234.6,430 236,449.1 239.5,464.1 242.4,465.1 246.4,466.8 249.1,472.9 300,473.6 410.4,477.2"/>
<polyline fill="none" stroke="#f7b10a" stroke-width="1.7" stroke-dasharray="1.6 1.7" stroke-linejoin="round" points="235.6,378.2 236.4,402.7 237.6,421.8 240.9,435.4 246.4,451.8 250.5,457.5 255,461 261.8,463.4 286.9,464.3 291.1,468.5 303.7,471 307.9,472.7 320,473.5 410.4,474"/>
<polyline fill="none" stroke="#0070c4" stroke-width="1.6" stroke-dasharray="6.2 1.8 2.8 1.8" stroke-linejoin="round" points="234.7,421.8 236,451.8 237.6,487.3 240.9,491.4 246.4,492.1 410.4,492"/>
<polyline fill="none" stroke="#c61334" stroke-width="1.6" stroke-dasharray="4.6 1.8 2.6 1.8" stroke-linejoin="round" points="234.7,401.4 235.5,434.1 240.9,434.6 241.3,457.3 251.3,457.3 251.6,470.3 265.1,471 275,472.9 300,473.4 410.4,477"/>
<rect x="234.4" y="375.4" width="176" height="139.1" fill="none" stroke="#6a6a6a" stroke-width="0.6"/>
<line x1="234.4" y1="514.5" x2="234.4" y2="513" stroke="#6a6a6a" stroke-width="0.5"/>
<line x1="234.4" y1="375.4" x2="234.4" y2="376.9" stroke="#6a6a6a" stroke-width="0.5"/>
<text x="234.4" y="522.8" class="tk" text-anchor="middle">0</text>
<line x1="252" y1="514.5" x2="252" y2="513" stroke="#6a6a6a" stroke-width="0.5"/>
<line x1="252" y1="375.4" x2="252" y2="376.9" stroke="#6a6a6a" stroke-width="0.5"/>
<text x="252" y="522.8" class="tk" text-anchor="middle">50</text>
<line x1="269.6" y1="514.5" x2="269.6" y2="513" stroke="#6a6a6a" stroke-width="0.5"/>
<line x1="269.6" y1="375.4" x2="269.6" y2="376.9" stroke="#6a6a6a" stroke-width="0.5"/>
<text x="269.6" y="522.8" class="tk" text-anchor="middle">100</text>
<line x1="287.2" y1="514.5" x2="287.2" y2="513" stroke="#6a6a6a" stroke-width="0.5"/>
<line x1="287.2" y1="375.4" x2="287.2" y2="376.9" stroke="#6a6a6a" stroke-width="0.5"/>
<text x="287.2" y="522.8" class="tk" text-anchor="middle">150</text>
<line x1="304.8" y1="514.5" x2="304.8" y2="513" stroke="#6a6a6a" stroke-width="0.5"/>
<line x1="304.8" y1="375.4" x2="304.8" y2="376.9" stroke="#6a6a6a" stroke-width="0.5"/>
<text x="304.8" y="522.8" class="tk" text-anchor="middle">200</text>
<line x1="322.4" y1="514.5" x2="322.4" y2="513" stroke="#6a6a6a" stroke-width="0.5"/>
<line x1="322.4" y1="375.4" x2="322.4" y2="376.9" stroke="#6a6a6a" stroke-width="0.5"/>
<text x="322.4" y="522.8" class="tk" text-anchor="middle">250</text>
<line x1="340" y1="514.5" x2="340" y2="513" stroke="#6a6a6a" stroke-width="0.5"/>
<line x1="340" y1="375.4" x2="340" y2="376.9" stroke="#6a6a6a" stroke-width="0.5"/>
<text x="340" y="522.8" class="tk" text-anchor="middle">300</text>
<line x1="357.6" y1="514.5" x2="357.6" y2="513" stroke="#6a6a6a" stroke-width="0.5"/>
<line x1="357.6" y1="375.4" x2="357.6" y2="376.9" stroke="#6a6a6a" stroke-width="0.5"/>
<text x="357.6" y="522.8" class="tk" text-anchor="middle">350</text>
<line x1="375.2" y1="514.5" x2="375.2" y2="513" stroke="#6a6a6a" stroke-width="0.5"/>
<line x1="375.2" y1="375.4" x2="375.2" y2="376.9" stroke="#6a6a6a" stroke-width="0.5"/>
<text x="375.2" y="522.8" class="tk" text-anchor="middle">400</text>
<line x1="392.8" y1="514.5" x2="392.8" y2="513" stroke="#6a6a6a" stroke-width="0.5"/>
<line x1="392.8" y1="375.4" x2="392.8" y2="376.9" stroke="#6a6a6a" stroke-width="0.5"/>
<text x="392.8" y="522.8" class="tk" text-anchor="middle">450</text>
<line x1="410.4" y1="514.5" x2="410.4" y2="513" stroke="#6a6a6a" stroke-width="0.5"/>
<line x1="410.4" y1="375.4" x2="410.4" y2="376.9" stroke="#6a6a6a" stroke-width="0.5"/>
<text x="410.4" y="522.8" class="tk" text-anchor="middle">500</text>
<line x1="234.4" y1="375.4" x2="235.9" y2="375.4" stroke="#6a6a6a" stroke-width="0.5"/>
<line x1="410.4" y1="375.4" x2="408.9" y2="375.4" stroke="#6a6a6a" stroke-width="0.5"/>
<line x1="234.4" y1="421.77" x2="235.9" y2="421.77" stroke="#6a6a6a" stroke-width="0.5"/>
<line x1="410.4" y1="421.77" x2="408.9" y2="421.77" stroke="#6a6a6a" stroke-width="0.5"/>
<line x1="234.4" y1="468.13" x2="235.9" y2="468.13" stroke="#6a6a6a" stroke-width="0.5"/>
<line x1="410.4" y1="468.13" x2="408.9" y2="468.13" stroke="#6a6a6a" stroke-width="0.5"/>
<line x1="234.4" y1="514.5" x2="235.9" y2="514.5" stroke="#6a6a6a" stroke-width="0.5"/>
<line x1="410.4" y1="514.5" x2="408.9" y2="514.5" stroke="#6a6a6a" stroke-width="0.5"/>
<line x1="234.4" y1="500.54" x2="235.9" y2="500.54" stroke="#6a6a6a" stroke-width="0.5"/>
<line x1="410.4" y1="500.54" x2="408.9" y2="500.54" stroke="#6a6a6a" stroke-width="0.5"/>
<line x1="234.4" y1="492.38" x2="235.9" y2="492.38" stroke="#6a6a6a" stroke-width="0.5"/>
<line x1="410.4" y1="492.38" x2="408.9" y2="492.38" stroke="#6a6a6a" stroke-width="0.5"/>
<line x1="234.4" y1="486.58" x2="235.9" y2="486.58" stroke="#6a6a6a" stroke-width="0.5"/>
<line x1="410.4" y1="486.58" x2="408.9" y2="486.58" stroke="#6a6a6a" stroke-width="0.5"/>
<line x1="234.4" y1="482.09" x2="235.9" y2="482.09" stroke="#6a6a6a" stroke-width="0.5"/>
<line x1="410.4" y1="482.09" x2="408.9" y2="482.09" stroke="#6a6a6a" stroke-width="0.5"/>
<line x1="234.4" y1="478.42" x2="235.9" y2="478.42" stroke="#6a6a6a" stroke-width="0.5"/>
<line x1="410.4" y1="478.42" x2="408.9" y2="478.42" stroke="#6a6a6a" stroke-width="0.5"/>
<line x1="234.4" y1="475.32" x2="235.9" y2="475.32" stroke="#6a6a6a" stroke-width="0.5"/>
<line x1="410.4" y1="475.32" x2="408.9" y2="475.32" stroke="#6a6a6a" stroke-width="0.5"/>
<line x1="234.4" y1="472.63" x2="235.9" y2="472.63" stroke="#6a6a6a" stroke-width="0.5"/>
<line x1="410.4" y1="472.63" x2="408.9" y2="472.63" stroke="#6a6a6a" stroke-width="0.5"/>
<line x1="234.4" y1="470.25" x2="235.9" y2="470.25" stroke="#6a6a6a" stroke-width="0.5"/>
<line x1="410.4" y1="470.25" x2="408.9" y2="470.25" stroke="#6a6a6a" stroke-width="0.5"/>
<line x1="234.4" y1="454.18" x2="235.9" y2="454.18" stroke="#6a6a6a" stroke-width="0.5"/>
<line x1="410.4" y1="454.18" x2="408.9" y2="454.18" stroke="#6a6a6a" stroke-width="0.5"/>
<line x1="234.4" y1="446.01" x2="235.9" y2="446.01" stroke="#6a6a6a" stroke-width="0.5"/>
<line x1="410.4" y1="446.01" x2="408.9" y2="446.01" stroke="#6a6a6a" stroke-width="0.5"/>
<line x1="234.4" y1="440.22" x2="235.9" y2="440.22" stroke="#6a6a6a" stroke-width="0.5"/>
<line x1="410.4" y1="440.22" x2="408.9" y2="440.22" stroke="#6a6a6a" stroke-width="0.5"/>
<line x1="234.4" y1="435.72" x2="235.9" y2="435.72" stroke="#6a6a6a" stroke-width="0.5"/>
<line x1="410.4" y1="435.72" x2="408.9" y2="435.72" stroke="#6a6a6a" stroke-width="0.5"/>
<line x1="234.4" y1="432.05" x2="235.9" y2="432.05" stroke="#6a6a6a" stroke-width="0.5"/>
<line x1="410.4" y1="432.05" x2="408.9" y2="432.05" stroke="#6a6a6a" stroke-width="0.5"/>
<line x1="234.4" y1="428.95" x2="235.9" y2="428.95" stroke="#6a6a6a" stroke-width="0.5"/>
<line x1="410.4" y1="428.95" x2="408.9" y2="428.95" stroke="#6a6a6a" stroke-width="0.5"/>
<line x1="234.4" y1="426.26" x2="235.9" y2="426.26" stroke="#6a6a6a" stroke-width="0.5"/>
<line x1="410.4" y1="426.26" x2="408.9" y2="426.26" stroke="#6a6a6a" stroke-width="0.5"/>
<line x1="234.4" y1="423.89" x2="235.9" y2="423.89" stroke="#6a6a6a" stroke-width="0.5"/>
<line x1="410.4" y1="423.89" x2="408.9" y2="423.89" stroke="#6a6a6a" stroke-width="0.5"/>
<line x1="234.4" y1="407.81" x2="235.9" y2="407.81" stroke="#6a6a6a" stroke-width="0.5"/>
<line x1="410.4" y1="407.81" x2="408.9" y2="407.81" stroke="#6a6a6a" stroke-width="0.5"/>
<line x1="234.4" y1="399.64" x2="235.9" y2="399.64" stroke="#6a6a6a" stroke-width="0.5"/>
<line x1="410.4" y1="399.64" x2="408.9" y2="399.64" stroke="#6a6a6a" stroke-width="0.5"/>
<line x1="234.4" y1="393.85" x2="235.9" y2="393.85" stroke="#6a6a6a" stroke-width="0.5"/>
<line x1="410.4" y1="393.85" x2="408.9" y2="393.85" stroke="#6a6a6a" stroke-width="0.5"/>
<line x1="234.4" y1="389.36" x2="235.9" y2="389.36" stroke="#6a6a6a" stroke-width="0.5"/>
<line x1="410.4" y1="389.36" x2="408.9" y2="389.36" stroke="#6a6a6a" stroke-width="0.5"/>
<line x1="234.4" y1="385.69" x2="235.9" y2="385.69" stroke="#6a6a6a" stroke-width="0.5"/>
<line x1="410.4" y1="385.69" x2="408.9" y2="385.69" stroke="#6a6a6a" stroke-width="0.5"/>
<line x1="234.4" y1="382.58" x2="235.9" y2="382.58" stroke="#6a6a6a" stroke-width="0.5"/>
<line x1="410.4" y1="382.58" x2="408.9" y2="382.58" stroke="#6a6a6a" stroke-width="0.5"/>
<line x1="234.4" y1="379.89" x2="235.9" y2="379.89" stroke="#6a6a6a" stroke-width="0.5"/>
<line x1="410.4" y1="379.89" x2="408.9" y2="379.89" stroke="#6a6a6a" stroke-width="0.5"/>
<line x1="234.4" y1="377.52" x2="235.9" y2="377.52" stroke="#6a6a6a" stroke-width="0.5"/>
<line x1="410.4" y1="377.52" x2="408.9" y2="377.52" stroke="#6a6a6a" stroke-width="0.5"/>
<text x="231.5" y="378.7" class="tk" text-anchor="end">10<tspan class="sup" dx="0.4" dy="-3.3">-1</tspan></text>
<text x="231.5" y="425.07" class="tk" text-anchor="end">10<tspan class="sup" dx="0.4" dy="-3.3">-2</tspan></text>
<text x="231.5" y="471.43" class="tk" text-anchor="end">10<tspan class="sup" dx="0.4" dy="-3.3">-3</tspan></text>
<text x="231.5" y="517.8" class="tk" text-anchor="end">10<tspan class="sup" dx="0.4" dy="-3.3">-4</tspan></text>
<text x="322.4" y="372.8" class="ti" text-anchor="middle">F8</text>
<text x="322.4" y="529.7" class="xl" text-anchor="middle">iteration times</text>
<text transform="translate(220.4,444.95) rotate(-90)" class="yl" text-anchor="middle">adaptation degree</text>
<text x="315" y="546.5" class="cap" text-anchor="middle">(h)</text>
<rect x="373.4" y="381" width="32" height="24.5" fill="#fff" stroke="#6a6a6a" stroke-width="0.6"/>
<line x1="375.1" y1="384.9" x2="387" y2="384.9" stroke="#ff0000" stroke-width="1.5"/>
<text x="388.2" y="386.5" class="lg">MDBO</text>
<line x1="375.1" y1="390.85" x2="387" y2="390.85" stroke="#f7b10a" stroke-width="1.5" stroke-dasharray="1.5 1.8"/>
<text x="388.2" y="392.45" class="lg">EA</text>
<line x1="375.1" y1="396.8" x2="387" y2="396.8" stroke="#0070c4" stroke-width="1.45" stroke-dasharray="6 2.2 3.7"/>
<text x="388.2" y="398.4" class="lg">SSA</text>
<line x1="375.1" y1="402.75" x2="387" y2="402.75" stroke="#c61334" stroke-width="1.45" stroke-dasharray="6 2.2 3.7"/>
<text x="388.2" y="404.35" class="lg">PSO</text>
</svg>
</body></html>
